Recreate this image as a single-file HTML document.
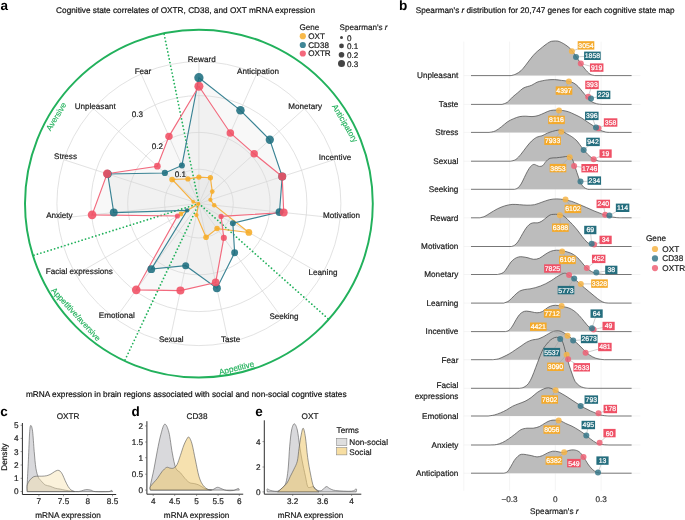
<!DOCTYPE html>
<html><head><meta charset="utf-8"><title>Figure</title>
<style>
html,body{margin:0;padding:0;background:#fff;}
body{width:685px;height:520px;overflow:hidden;}
svg{display:block;font-family:"Liberation Sans", sans-serif;will-change:transform;text-rendering:geometricPrecision;}
</style></head>
<body>
<svg width="685" height="520" viewBox="0 0 685 520">
<rect width="685" height="520" fill="#fff"/>
<text x="0.4" y="10.2" font-size="13.5" text-anchor="start" fill="#000" font-weight="bold">a</text>
<text x="56.1" y="12.8" font-size="8.25" text-anchor="start" fill="#111" stroke="#111" stroke-width="0.2">Cognitive state correlates of OXTR, CD38, and OXT mRNA expression</text>
<polygon points="198.9,77.7 240.43,110.33 269.8,139.76 282.21,176.53 279.46,212.07 232.85,223.2 234.64,252.79 216.88,288.21 185.7,265.71 151.29,269.13 187.21,210.35 113.77,212.55 107.69,173.97 164.86,172.95 181.9,165.41" fill="#808080" fill-opacity="0.055" stroke="none"/>
<polygon points="198.9,86.3 230.34,132.98 254.19,153.82 282.21,176.53 283.73,212.52 221.07,216.4 223.82,237.9 215.66,282.44 180.42,290.56 136.24,289.84 177.42,216 92.09,214.83 107.12,173.78 157.36,166.2 168.96,136.36" fill="#808080" fill-opacity="0.055" stroke="none"/>
<polygon points="198.9,177.1 210.41,177.75 212.28,191.56 210.41,199.86 214.22,205.21 248.87,232.45 217.06,228.6 206.05,237.25 196.47,215.04 198.61,204 180.89,214 198.4,203.65 193.19,201.75 172.15,179.51 187.92,178.93" fill="#808080" fill-opacity="0.055" stroke="none"/>
<circle cx="198.9" cy="203.6" r="34.4" fill="none" stroke="#d6d6d6" stroke-width="0.7"/>
<circle cx="198.9" cy="203.6" r="71.2" fill="none" stroke="#d6d6d6" stroke-width="0.7"/>
<circle cx="198.9" cy="203.6" r="108" fill="none" stroke="#d6d6d6" stroke-width="0.7"/>
<circle cx="198.9" cy="203.6" r="142" fill="none" stroke="#d6d6d6" stroke-width="0.7"/>
<line x1="198.9" y1="203.6" x2="198.9" y2="61.6" stroke="#d6d6d6" stroke-width="0.7"/>
<line x1="198.9" y1="203.6" x2="256.66" y2="73.88" stroke="#d6d6d6" stroke-width="0.7"/>
<line x1="198.9" y1="203.6" x2="304.43" y2="108.58" stroke="#d6d6d6" stroke-width="0.7"/>
<line x1="198.9" y1="203.6" x2="333.95" y2="159.72" stroke="#d6d6d6" stroke-width="0.7"/>
<line x1="198.9" y1="203.6" x2="340.12" y2="218.44" stroke="#d6d6d6" stroke-width="0.7"/>
<line x1="198.9" y1="203.6" x2="321.88" y2="274.6" stroke="#d6d6d6" stroke-width="0.7"/>
<line x1="198.9" y1="203.6" x2="282.37" y2="318.48" stroke="#d6d6d6" stroke-width="0.7"/>
<line x1="198.9" y1="203.6" x2="228.42" y2="342.5" stroke="#d6d6d6" stroke-width="0.7"/>
<line x1="198.9" y1="203.6" x2="169.38" y2="342.5" stroke="#d6d6d6" stroke-width="0.7"/>
<line x1="198.9" y1="203.6" x2="115.43" y2="318.48" stroke="#d6d6d6" stroke-width="0.7"/>
<line x1="198.9" y1="203.6" x2="75.92" y2="274.6" stroke="#d6d6d6" stroke-width="0.7"/>
<line x1="198.9" y1="203.6" x2="57.68" y2="218.44" stroke="#d6d6d6" stroke-width="0.7"/>
<line x1="198.9" y1="203.6" x2="63.85" y2="159.72" stroke="#d6d6d6" stroke-width="0.7"/>
<line x1="198.9" y1="203.6" x2="93.37" y2="108.58" stroke="#d6d6d6" stroke-width="0.7"/>
<line x1="198.9" y1="203.6" x2="141.14" y2="73.88" stroke="#d6d6d6" stroke-width="0.7"/>
<circle cx="198.9" cy="203.6" r="173.9" fill="none" stroke="#22b15c" stroke-width="1.95"/>
<line x1="198.9" y1="203.6" x2="164.11" y2="34.13" stroke="#22b15c" stroke-width="1.8" stroke-dasharray="0 3.6" stroke-linecap="round"/>
<line x1="198.9" y1="203.6" x2="328.07" y2="318.68" stroke="#22b15c" stroke-width="1.8" stroke-dasharray="0 3.6" stroke-linecap="round"/>
<line x1="198.9" y1="203.6" x2="124.97" y2="360.01" stroke="#22b15c" stroke-width="1.8" stroke-dasharray="0 3.6" stroke-linecap="round"/>
<line x1="198.9" y1="203.6" x2="33.82" y2="255.33" stroke="#22b15c" stroke-width="1.8" stroke-dasharray="0 3.6" stroke-linecap="round"/>
<polygon points="198.9,177.1 210.41,177.75 212.28,191.56 210.41,199.86 214.22,205.21 248.87,232.45 217.06,228.6 206.05,237.25 196.47,215.04 198.61,204 180.89,214 198.4,203.65 193.19,201.75 172.15,179.51 187.92,178.93" fill="none" stroke="#f6b244" stroke-width="1.15"/>
<polygon points="198.9,77.7 240.43,110.33 269.8,139.76 282.21,176.53 279.46,212.07 232.85,223.2 234.64,252.79 216.88,288.21 185.7,265.71 151.29,269.13 187.21,210.35 113.77,212.55 107.69,173.97 164.86,172.95 181.9,165.41" fill="none" stroke="#3a8394" stroke-width="1.15"/>
<polygon points="198.9,86.3 230.34,132.98 254.19,153.82 282.21,176.53 283.73,212.52 221.07,216.4 223.82,237.9 215.66,282.44 180.42,290.56 136.24,289.84 177.42,216 92.09,214.83 107.12,173.78 157.36,166.2 168.96,136.36" fill="none" stroke="#f26a7e" stroke-width="1.15"/>
<circle cx="198.9" cy="177.1" r="2.6" fill="#f6ac28" fill-opacity="0.88"/>
<circle cx="210.41" cy="177.75" r="2.65" fill="#f6ac28" fill-opacity="0.88"/>
<circle cx="212.28" cy="191.56" r="2.35" fill="#f6ac28" fill-opacity="0.88"/>
<circle cx="210.41" cy="199.86" r="2.15" fill="#f6ac28" fill-opacity="0.88"/>
<circle cx="214.22" cy="205.21" r="2.26" fill="#f6ac28" fill-opacity="0.88"/>
<circle cx="248.87" cy="232.45" r="3.38" fill="#f6ac28" fill-opacity="0.88"/>
<circle cx="217.06" cy="228.6" r="2.73" fill="#f6ac28" fill-opacity="0.88"/>
<circle cx="206.05" cy="237.25" r="2.82" fill="#f6ac28" fill-opacity="0.88"/>
<circle cx="196.47" cy="215.04" r="2.13" fill="#f6ac28" fill-opacity="0.88"/>
<circle cx="198.61" cy="204" r="1.7" fill="#f6ac28" fill-opacity="0.88"/>
<circle cx="180.89" cy="214" r="2.43" fill="#f6ac28" fill-opacity="0.88"/>
<circle cx="198.4" cy="203.65" r="1.7" fill="#f6ac28" fill-opacity="0.88"/>
<circle cx="193.19" cy="201.75" r="1.92" fill="#f6ac28" fill-opacity="0.88"/>
<circle cx="172.15" cy="179.51" r="2.86" fill="#f6ac28" fill-opacity="0.88"/>
<circle cx="187.92" cy="178.93" r="2.62" fill="#f6ac28" fill-opacity="0.88"/>
<circle cx="198.9" cy="77.7" r="4.66" fill="#1e6e80" fill-opacity="0.88"/>
<circle cx="240.43" cy="110.33" r="4.26" fill="#1e6e80" fill-opacity="0.88"/>
<circle cx="269.8" cy="139.76" r="4.14" fill="#1e6e80" fill-opacity="0.88"/>
<circle cx="282.21" cy="176.53" r="3.99" fill="#1e6e80" fill-opacity="0.88"/>
<circle cx="279.46" cy="212.07" r="3.87" fill="#1e6e80" fill-opacity="0.88"/>
<circle cx="232.85" cy="223.2" r="2.95" fill="#1e6e80" fill-opacity="0.88"/>
<circle cx="234.64" cy="252.79" r="3.45" fill="#1e6e80" fill-opacity="0.88"/>
<circle cx="216.88" cy="288.21" r="3.97" fill="#1e6e80" fill-opacity="0.88"/>
<circle cx="185.7" cy="265.71" r="3.51" fill="#1e6e80" fill-opacity="0.88"/>
<circle cx="151.29" cy="269.13" r="3.87" fill="#1e6e80" fill-opacity="0.88"/>
<circle cx="187.21" cy="210.35" r="2.2" fill="#1e6e80" fill-opacity="0.88"/>
<circle cx="113.77" cy="212.55" r="3.95" fill="#1e6e80" fill-opacity="0.88"/>
<circle cx="107.69" cy="173.97" r="4.15" fill="#1e6e80" fill-opacity="0.88"/>
<circle cx="164.86" cy="172.95" r="3.11" fill="#1e6e80" fill-opacity="0.88"/>
<circle cx="181.9" cy="165.41" r="3.01" fill="#1e6e80" fill-opacity="0.88"/>
<circle cx="198.9" cy="86.3" r="4.52" fill="#f05064" fill-opacity="0.88"/>
<circle cx="230.34" cy="132.98" r="3.79" fill="#f05064" fill-opacity="0.88"/>
<circle cx="254.19" cy="153.82" r="3.74" fill="#f05064" fill-opacity="0.88"/>
<circle cx="282.21" cy="176.53" r="3.99" fill="#f05064" fill-opacity="0.88"/>
<circle cx="283.73" cy="212.52" r="3.95" fill="#f05064" fill-opacity="0.88"/>
<circle cx="221.07" cy="216.4" r="2.58" fill="#f05064" fill-opacity="0.88"/>
<circle cx="223.82" cy="237.9" r="3.03" fill="#f05064" fill-opacity="0.88"/>
<circle cx="215.66" cy="282.44" r="3.86" fill="#f05064" fill-opacity="0.88"/>
<circle cx="180.42" cy="290.56" r="4.02" fill="#f05064" fill-opacity="0.88"/>
<circle cx="136.24" cy="289.84" r="4.33" fill="#f05064" fill-opacity="0.88"/>
<circle cx="177.42" cy="216" r="2.55" fill="#f05064" fill-opacity="0.88"/>
<circle cx="92.09" cy="214.83" r="4.35" fill="#f05064" fill-opacity="0.88"/>
<circle cx="107.12" cy="173.78" r="4.16" fill="#f05064" fill-opacity="0.88"/>
<circle cx="157.36" cy="166.2" r="3.34" fill="#f05064" fill-opacity="0.88"/>
<circle cx="168.96" cy="136.36" r="3.72" fill="#f05064" fill-opacity="0.88"/>
<text x="201.7" y="61.55" font-size="8.1" text-anchor="middle" fill="#1a1a1a" stroke="#1a1a1a" stroke-width="0.2">Reward</text>
<text x="258" y="74.25" font-size="8.1" text-anchor="middle" fill="#1a1a1a" stroke="#1a1a1a" stroke-width="0.2">Anticipation</text>
<text x="305.2" y="108.85" font-size="8.1" text-anchor="middle" fill="#1a1a1a" stroke="#1a1a1a" stroke-width="0.2">Monetary</text>
<text x="335" y="159.75" font-size="8.1" text-anchor="middle" fill="#1a1a1a" stroke="#1a1a1a" stroke-width="0.2">Incentive</text>
<text x="341.5" y="218.35" font-size="8.1" text-anchor="middle" fill="#1a1a1a" stroke="#1a1a1a" stroke-width="0.2">Motivation</text>
<text x="323" y="274.95" font-size="8.1" text-anchor="middle" fill="#1a1a1a" stroke="#1a1a1a" stroke-width="0.2">Leaning</text>
<text x="284" y="318.55" font-size="8.1" text-anchor="middle" fill="#1a1a1a" stroke="#1a1a1a" stroke-width="0.2">Seeking</text>
<text x="230.6" y="342.25" font-size="8.1" text-anchor="middle" fill="#1a1a1a" stroke="#1a1a1a" stroke-width="0.2">Taste</text>
<text x="171.25" y="342.25" font-size="8.1" text-anchor="middle" fill="#1a1a1a" stroke="#1a1a1a" stroke-width="0.2">Sexual</text>
<text x="116.8" y="318.05" font-size="8.1" text-anchor="middle" fill="#1a1a1a" stroke="#1a1a1a" stroke-width="0.2">Emotional</text>
<text x="79.3" y="274.05" font-size="8.1" text-anchor="middle" fill="#1a1a1a" stroke="#1a1a1a" stroke-width="0.2">Facial expressions</text>
<text x="59.4" y="217.75" font-size="8.1" text-anchor="middle" fill="#1a1a1a" stroke="#1a1a1a" stroke-width="0.2">Anxiety</text>
<text x="65.5" y="159.25" font-size="8.1" text-anchor="middle" fill="#1a1a1a" stroke="#1a1a1a" stroke-width="0.2">Stress</text>
<text x="95.2" y="108.75" font-size="8.1" text-anchor="middle" fill="#1a1a1a" stroke="#1a1a1a" stroke-width="0.2">Unpleasant</text>
<text x="143" y="73.75" font-size="8.1" text-anchor="middle" fill="#1a1a1a" stroke="#1a1a1a" stroke-width="0.2">Fear</text>
<text x="180.5" y="177.3" font-size="8.1" text-anchor="middle" fill="#1a1a1a" stroke="#1a1a1a" stroke-width="0.2">0.1</text>
<text x="157.4" y="148.8" font-size="8.1" text-anchor="middle" fill="#1a1a1a" stroke="#1a1a1a" stroke-width="0.2">0.2</text>
<text x="137.5" y="117" font-size="8.1" text-anchor="middle" fill="#1a1a1a" stroke="#1a1a1a" stroke-width="0.2">0.3</text>
<text x="0" y="2.8" font-size="8.2" text-anchor="middle" fill="#22b15c" stroke="#22b15c" stroke-width="0.15" transform="translate(56.2 116.6) rotate(-58.6)">Aversive</text>
<text x="0" y="2.8" font-size="8.2" text-anchor="middle" fill="#22b15c" stroke="#22b15c" stroke-width="0.15" transform="translate(345 123.2) rotate(59.5)">Anticipatory</text>
<text x="0" y="2.8" font-size="8.2" text-anchor="middle" fill="#22b15c" stroke="#22b15c" stroke-width="0.15" transform="translate(76 314.3) rotate(47.5)">Appetitive/aversive</text>
<text x="0" y="2.8" font-size="8.2" text-anchor="middle" fill="#22b15c" stroke="#22b15c" stroke-width="0.15" transform="translate(236.6 368) rotate(-13.5)">Appetitive</text>
<text x="299.5" y="29.9" font-size="8.1" text-anchor="start" fill="#1a1a1a" stroke="#1a1a1a" stroke-width="0.2">Gene</text>
<circle cx="302.8" cy="36.2" r="3.1" fill="#f8b94a"/>
<text x="308.2" y="39.1" font-size="8.1" text-anchor="start" fill="#1a1a1a" stroke="#1a1a1a" stroke-width="0.2">OXT</text>
<circle cx="302.8" cy="45" r="3.1" fill="#3f8696"/>
<text x="308.2" y="47.9" font-size="8.1" text-anchor="start" fill="#1a1a1a" stroke="#1a1a1a" stroke-width="0.2">CD38</text>
<circle cx="302.8" cy="53.5" r="3.1" fill="#f4687c"/>
<text x="308.2" y="56.4" font-size="8.1" text-anchor="start" fill="#1a1a1a" stroke="#1a1a1a" stroke-width="0.2">OXTR</text>
<text x="339.6" y="29.9" font-size="8.1" fill="#1a1a1a" stroke="#1a1a1a" stroke-width="0.2">Spearman's <tspan font-style="italic">r</tspan></text>
<circle cx="341.5" cy="37.4" r="1.5" fill="#444"/>
<text x="346.9" y="40.6" font-size="8.1" text-anchor="start" fill="#1a1a1a" stroke="#1a1a1a" stroke-width="0.2">0</text>
<circle cx="341.5" cy="45.9" r="2.4" fill="#444"/>
<text x="346.9" y="49.1" font-size="8.1" text-anchor="start" fill="#1a1a1a" stroke="#1a1a1a" stroke-width="0.2">0.1</text>
<circle cx="341.5" cy="54.8" r="2.8" fill="#444"/>
<text x="346.9" y="58" font-size="8.1" text-anchor="start" fill="#1a1a1a" stroke="#1a1a1a" stroke-width="0.2">0.2</text>
<circle cx="341.5" cy="63.5" r="3.5" fill="#444"/>
<text x="346.9" y="66.7" font-size="8.1" text-anchor="start" fill="#1a1a1a" stroke="#1a1a1a" stroke-width="0.2">0.3</text>
<text x="398.9" y="9.7" font-size="13.6" text-anchor="start" fill="#000" font-weight="bold">b</text>
<text x="415.8" y="12.8" font-size="8.2" fill="#111" stroke="#111" stroke-width="0.2">Spearman's <tspan font-style="italic">r</tspan> distribution for 20,747 genes for each cognitive state map</text>
<line x1="463.8" y1="41.6" x2="463.8" y2="490.7" stroke="#ececec" stroke-width="0.6"/>
<line x1="509.6" y1="41.6" x2="509.6" y2="490.7" stroke="#ececec" stroke-width="0.6"/>
<line x1="555.3" y1="41.6" x2="555.3" y2="490.7" stroke="#ececec" stroke-width="0.6"/>
<line x1="601.1" y1="41.6" x2="601.1" y2="490.7" stroke="#ececec" stroke-width="0.6"/>
<line x1="463.8" y1="75.6" x2="640.4" y2="75.6" stroke="#ececec" stroke-width="0.6"/>
<line x1="463.8" y1="104.4" x2="640.4" y2="104.4" stroke="#ececec" stroke-width="0.6"/>
<line x1="463.8" y1="132.4" x2="640.4" y2="132.4" stroke="#ececec" stroke-width="0.6"/>
<line x1="463.8" y1="161.2" x2="640.4" y2="161.2" stroke="#ececec" stroke-width="0.6"/>
<line x1="463.8" y1="189.3" x2="640.4" y2="189.3" stroke="#ececec" stroke-width="0.6"/>
<line x1="463.8" y1="217.8" x2="640.4" y2="217.8" stroke="#ececec" stroke-width="0.6"/>
<line x1="463.8" y1="246.5" x2="640.4" y2="246.5" stroke="#ececec" stroke-width="0.6"/>
<line x1="463.8" y1="274.5" x2="640.4" y2="274.5" stroke="#ececec" stroke-width="0.6"/>
<line x1="463.8" y1="303.1" x2="640.4" y2="303.1" stroke="#ececec" stroke-width="0.6"/>
<line x1="463.8" y1="331.6" x2="640.4" y2="331.6" stroke="#ececec" stroke-width="0.6"/>
<line x1="463.8" y1="359.7" x2="640.4" y2="359.7" stroke="#ececec" stroke-width="0.6"/>
<line x1="463.8" y1="388.3" x2="640.4" y2="388.3" stroke="#ececec" stroke-width="0.6"/>
<line x1="463.8" y1="416" x2="640.4" y2="416" stroke="#ececec" stroke-width="0.6"/>
<line x1="463.8" y1="445" x2="640.4" y2="445" stroke="#ececec" stroke-width="0.6"/>
<line x1="463.8" y1="473.2" x2="640.4" y2="473.2" stroke="#ececec" stroke-width="0.6"/>
<path d="M511.2,75.6 C512,75.33 514.38,74.8 516,74 C517.62,73.2 519.28,72.27 520.9,70.8 C522.52,69.33 524.1,67.2 525.7,65.2 C527.3,63.2 528.9,60.8 530.5,58.8 C532.1,56.8 533.7,54.82 535.3,53.2 C536.9,51.58 538.48,50.45 540.1,49.1 C541.72,47.75 543.38,46.3 545,45.1 C546.62,43.9 548.47,42.57 549.8,41.9 C551.13,41.23 551.67,41.23 553,41.1 C554.33,40.97 556.33,40.83 557.8,41.1 C559.27,41.37 560.47,42.03 561.8,42.7 C563.13,43.37 564.32,44.03 565.8,45.1 C567.28,46.17 569.08,47.35 570.7,49.1 C572.32,50.85 573.9,53.32 575.5,55.6 C577.1,57.88 578.7,60.53 580.3,62.8 C581.9,65.07 583.5,67.33 585.1,69.2 C586.7,71.07 588.3,72.93 589.9,74 C591.5,75.07 593.9,75.33 594.7,75.6 Z" fill="#bcbcbc" stroke="none"/>
<path d="M471,75.6 L511.2,75.6 C512,75.33 514.38,74.8 516,74 C517.62,73.2 519.28,72.27 520.9,70.8 C522.52,69.33 524.1,67.2 525.7,65.2 C527.3,63.2 528.9,60.8 530.5,58.8 C532.1,56.8 533.7,54.82 535.3,53.2 C536.9,51.58 538.48,50.45 540.1,49.1 C541.72,47.75 543.38,46.3 545,45.1 C546.62,43.9 548.47,42.57 549.8,41.9 C551.13,41.23 551.67,41.23 553,41.1 C554.33,40.97 556.33,40.83 557.8,41.1 C559.27,41.37 560.47,42.03 561.8,42.7 C563.13,43.37 564.32,44.03 565.8,45.1 C567.28,46.17 569.08,47.35 570.7,49.1 C572.32,50.85 573.9,53.32 575.5,55.6 C577.1,57.88 578.7,60.53 580.3,62.8 C581.9,65.07 583.5,67.33 585.1,69.2 C586.7,71.07 588.3,72.93 589.9,74 C591.5,75.07 593.9,75.33 594.7,75.6 L631.6,75.6" fill="none" stroke="#4d4d4d" stroke-width="0.75"/>
<path d="M502,104.4 C502.88,104.05 505.55,103.52 507.3,102.3 C509.05,101.08 510.75,98.7 512.5,97.1 C514.25,95.5 516.05,94.17 517.8,92.7 C519.55,91.23 521.4,89.32 523,88.3 C524.6,87.28 525.93,87.12 527.4,86.6 C528.87,86.08 530.2,85.93 531.8,85.2 C533.4,84.47 535.25,82.93 537,82.2 C538.75,81.47 540.53,81.18 542.3,80.8 C544.07,80.42 545.55,80.1 547.6,79.9 C549.65,79.7 552.27,79.52 554.6,79.6 C556.93,79.68 559.27,80.12 561.6,80.4 C563.93,80.68 566.57,80.85 568.6,81.3 C570.63,81.75 572.2,82.22 573.8,83.1 C575.4,83.98 576.73,85.15 578.2,86.6 C579.67,88.05 581.13,90.05 582.6,91.8 C584.07,93.55 585.53,95.48 587,97.1 C588.47,98.72 589.8,100.4 591.4,101.5 C593,102.6 594.85,103.22 596.6,103.7 C598.35,104.18 601.02,104.28 601.9,104.4 Z" fill="#bcbcbc" stroke="none"/>
<path d="M471,104.4 L502,104.4 C502.88,104.05 505.55,103.52 507.3,102.3 C509.05,101.08 510.75,98.7 512.5,97.1 C514.25,95.5 516.05,94.17 517.8,92.7 C519.55,91.23 521.4,89.32 523,88.3 C524.6,87.28 525.93,87.12 527.4,86.6 C528.87,86.08 530.2,85.93 531.8,85.2 C533.4,84.47 535.25,82.93 537,82.2 C538.75,81.47 540.53,81.18 542.3,80.8 C544.07,80.42 545.55,80.1 547.6,79.9 C549.65,79.7 552.27,79.52 554.6,79.6 C556.93,79.68 559.27,80.12 561.6,80.4 C563.93,80.68 566.57,80.85 568.6,81.3 C570.63,81.75 572.2,82.22 573.8,83.1 C575.4,83.98 576.73,85.15 578.2,86.6 C579.67,88.05 581.13,90.05 582.6,91.8 C584.07,93.55 585.53,95.48 587,97.1 C588.47,98.72 589.8,100.4 591.4,101.5 C593,102.6 594.85,103.22 596.6,103.7 C598.35,104.18 601.02,104.28 601.9,104.4 L631.6,104.4" fill="none" stroke="#4d4d4d" stroke-width="0.75"/>
<path d="M489.1,132.4 C490.12,132.17 493.17,131.92 495.2,131 C497.23,130.08 499.25,128.43 501.3,126.9 C503.35,125.37 505.45,123.17 507.5,121.8 C509.55,120.43 511.57,119.57 513.6,118.7 C515.63,117.83 517.65,117.02 519.7,116.6 C521.75,116.18 523.85,116.2 525.9,116.2 C527.95,116.2 529.97,116.7 532,116.6 C534.03,116.5 536.05,116.2 538.1,115.6 C540.15,115 542.25,113.85 544.3,113 C546.35,112.15 548.37,110.98 550.4,110.5 C552.43,110.02 554.45,110.1 556.5,110.1 C558.55,110.1 560.65,110.2 562.7,110.5 C564.75,110.8 566.77,111.22 568.8,111.9 C570.83,112.58 572.85,113.63 574.9,114.6 C576.95,115.57 579.05,116.5 581.1,117.7 C583.15,118.9 585.17,120.45 587.2,121.8 C589.23,123.15 591.25,124.45 593.3,125.8 C595.35,127.15 597.45,128.87 599.5,129.9 C601.55,130.93 603.9,131.58 605.6,132 C607.3,132.42 609.02,132.33 609.7,132.4 Z" fill="#bcbcbc" stroke="none"/>
<path d="M471,132.4 L489.1,132.4 C490.12,132.17 493.17,131.92 495.2,131 C497.23,130.08 499.25,128.43 501.3,126.9 C503.35,125.37 505.45,123.17 507.5,121.8 C509.55,120.43 511.57,119.57 513.6,118.7 C515.63,117.83 517.65,117.02 519.7,116.6 C521.75,116.18 523.85,116.2 525.9,116.2 C527.95,116.2 529.97,116.7 532,116.6 C534.03,116.5 536.05,116.2 538.1,115.6 C540.15,115 542.25,113.85 544.3,113 C546.35,112.15 548.37,110.98 550.4,110.5 C552.43,110.02 554.45,110.1 556.5,110.1 C558.55,110.1 560.65,110.2 562.7,110.5 C564.75,110.8 566.77,111.22 568.8,111.9 C570.83,112.58 572.85,113.63 574.9,114.6 C576.95,115.57 579.05,116.5 581.1,117.7 C583.15,118.9 585.17,120.45 587.2,121.8 C589.23,123.15 591.25,124.45 593.3,125.8 C595.35,127.15 597.45,128.87 599.5,129.9 C601.55,130.93 603.9,131.58 605.6,132 C607.3,132.42 609.02,132.33 609.7,132.4 L631.6,132.4" fill="none" stroke="#4d4d4d" stroke-width="0.75"/>
<path d="M510.5,161.2 C511.38,160.92 514.05,160.67 515.8,159.5 C517.55,158.33 519.25,156.25 521,154.2 C522.75,152.15 524.55,149.38 526.3,147.2 C528.05,145.02 529.75,142.77 531.5,141.1 C533.25,139.43 535.05,138.08 536.8,137.2 C538.55,136.32 540.25,136.47 542,135.8 C543.75,135.13 545.53,133.93 547.3,133.2 C549.07,132.47 550.85,131.9 552.6,131.4 C554.35,130.9 556.35,130.33 557.8,130.2 C559.25,130.07 559.83,130.02 561.3,130.6 C562.77,131.18 564.85,132.68 566.6,133.7 C568.35,134.72 570.05,135.47 571.8,136.7 C573.55,137.93 575.35,139.2 577.1,141.1 C578.85,143 580.55,145.92 582.3,148.1 C584.05,150.28 585.83,152.45 587.6,154.2 C589.37,155.95 591.15,157.48 592.9,158.6 C594.65,159.72 596.65,160.47 598.1,160.9 C599.55,161.33 601.02,161.15 601.6,161.2 Z" fill="#bcbcbc" stroke="none"/>
<path d="M471,161.2 L510.5,161.2 C511.38,160.92 514.05,160.67 515.8,159.5 C517.55,158.33 519.25,156.25 521,154.2 C522.75,152.15 524.55,149.38 526.3,147.2 C528.05,145.02 529.75,142.77 531.5,141.1 C533.25,139.43 535.05,138.08 536.8,137.2 C538.55,136.32 540.25,136.47 542,135.8 C543.75,135.13 545.53,133.93 547.3,133.2 C549.07,132.47 550.85,131.9 552.6,131.4 C554.35,130.9 556.35,130.33 557.8,130.2 C559.25,130.07 559.83,130.02 561.3,130.6 C562.77,131.18 564.85,132.68 566.6,133.7 C568.35,134.72 570.05,135.47 571.8,136.7 C573.55,137.93 575.35,139.2 577.1,141.1 C578.85,143 580.55,145.92 582.3,148.1 C584.05,150.28 585.83,152.45 587.6,154.2 C589.37,155.95 591.15,157.48 592.9,158.6 C594.65,159.72 596.65,160.47 598.1,160.9 C599.55,161.33 601.02,161.15 601.6,161.2 L631.6,161.2" fill="none" stroke="#4d4d4d" stroke-width="0.75"/>
<path d="M514.6,189.3 C515.13,189.08 516.72,188.88 517.8,188 C518.88,187.12 520.02,185.73 521.1,184 C522.18,182.27 523.23,179.73 524.3,177.6 C525.37,175.47 526.43,173.07 527.5,171.2 C528.57,169.33 529.63,167.53 530.7,166.4 C531.77,165.27 532.83,164.53 533.9,164.4 C534.97,164.27 536.17,165.27 537.1,165.6 C538.03,165.93 538.57,166.4 539.5,166.4 C540.43,166.4 541.62,166.42 542.7,165.6 C543.78,164.78 544.78,162.72 546,161.5 C547.22,160.28 548.27,158.92 550,158.3 C551.73,157.68 554.27,158.02 556.4,157.8 C558.53,157.58 560.93,157.23 562.8,157 C564.67,156.77 566.27,156.32 567.6,156.4 C568.93,156.48 569.85,156.65 570.8,157.5 C571.75,158.35 572.48,159.62 573.3,161.5 C574.12,163.38 574.9,166.38 575.7,168.8 C576.5,171.22 577.3,173.73 578.1,176 C578.9,178.27 579.57,180.53 580.5,182.4 C581.43,184.27 582.5,186.07 583.7,187.2 C584.9,188.33 586.63,188.85 587.7,189.2 C588.77,189.55 589.7,189.28 590.1,189.3 Z" fill="#bcbcbc" stroke="none"/>
<path d="M471,189.3 L514.6,189.3 C515.13,189.08 516.72,188.88 517.8,188 C518.88,187.12 520.02,185.73 521.1,184 C522.18,182.27 523.23,179.73 524.3,177.6 C525.37,175.47 526.43,173.07 527.5,171.2 C528.57,169.33 529.63,167.53 530.7,166.4 C531.77,165.27 532.83,164.53 533.9,164.4 C534.97,164.27 536.17,165.27 537.1,165.6 C538.03,165.93 538.57,166.4 539.5,166.4 C540.43,166.4 541.62,166.42 542.7,165.6 C543.78,164.78 544.78,162.72 546,161.5 C547.22,160.28 548.27,158.92 550,158.3 C551.73,157.68 554.27,158.02 556.4,157.8 C558.53,157.58 560.93,157.23 562.8,157 C564.67,156.77 566.27,156.32 567.6,156.4 C568.93,156.48 569.85,156.65 570.8,157.5 C571.75,158.35 572.48,159.62 573.3,161.5 C574.12,163.38 574.9,166.38 575.7,168.8 C576.5,171.22 577.3,173.73 578.1,176 C578.9,178.27 579.57,180.53 580.5,182.4 C581.43,184.27 582.5,186.07 583.7,187.2 C584.9,188.33 586.63,188.85 587.7,189.2 C588.77,189.55 589.7,189.28 590.1,189.3 L631.6,189.3" fill="none" stroke="#4d4d4d" stroke-width="0.75"/>
<path d="M479.9,217.8 C480.73,217.55 483.25,217.05 484.9,216.3 C486.55,215.55 487.73,214.53 489.8,213.3 C491.87,212.07 494.82,210.13 497.3,208.9 C499.78,207.67 502.23,206.65 504.7,205.9 C507.17,205.15 509.62,204.6 512.1,204.4 C514.58,204.2 517.12,204.57 519.6,204.7 C522.08,204.83 524.52,205.2 527,205.2 C529.48,205.2 532.02,205.2 534.5,204.7 C536.98,204.2 539.42,203.03 541.9,202.2 C544.38,201.37 546.92,200.25 549.4,199.7 C551.88,199.15 554.32,198.9 556.8,198.9 C559.28,198.9 561.82,199.28 564.3,199.7 C566.78,200.12 569.23,200.62 571.7,201.4 C574.17,202.18 576.62,203.37 579.1,204.4 C581.58,205.43 584.12,206.52 586.6,207.6 C589.08,208.68 591.52,209.87 594,210.9 C596.48,211.93 599.02,212.9 601.5,213.8 C603.98,214.7 606.42,215.67 608.9,216.3 C611.38,216.93 614.33,217.35 616.4,217.6 C618.47,217.85 620.48,217.77 621.3,217.8 Z" fill="#bcbcbc" stroke="none"/>
<path d="M471,217.8 L479.9,217.8 C480.73,217.55 483.25,217.05 484.9,216.3 C486.55,215.55 487.73,214.53 489.8,213.3 C491.87,212.07 494.82,210.13 497.3,208.9 C499.78,207.67 502.23,206.65 504.7,205.9 C507.17,205.15 509.62,204.6 512.1,204.4 C514.58,204.2 517.12,204.57 519.6,204.7 C522.08,204.83 524.52,205.2 527,205.2 C529.48,205.2 532.02,205.2 534.5,204.7 C536.98,204.2 539.42,203.03 541.9,202.2 C544.38,201.37 546.92,200.25 549.4,199.7 C551.88,199.15 554.32,198.9 556.8,198.9 C559.28,198.9 561.82,199.28 564.3,199.7 C566.78,200.12 569.23,200.62 571.7,201.4 C574.17,202.18 576.62,203.37 579.1,204.4 C581.58,205.43 584.12,206.52 586.6,207.6 C589.08,208.68 591.52,209.87 594,210.9 C596.48,211.93 599.02,212.9 601.5,213.8 C603.98,214.7 606.42,215.67 608.9,216.3 C611.38,216.93 614.33,217.35 616.4,217.6 C618.47,217.85 620.48,217.77 621.3,217.8 L631.6,217.8" fill="none" stroke="#4d4d4d" stroke-width="0.75"/>
<path d="M511.4,246.5 C511.93,246.28 513.53,245.95 514.6,245.2 C515.67,244.45 516.72,243.47 517.8,242 C518.88,240.53 520.02,238.27 521.1,236.4 C522.18,234.53 523.23,232.48 524.3,230.8 C525.37,229.12 526.43,227.5 527.5,226.3 C528.57,225.1 529.63,224.18 530.7,223.6 C531.77,223.02 532.7,222.93 533.9,222.8 C535.1,222.67 536.57,223.08 537.9,222.8 C539.23,222.52 540.55,221.92 541.9,221.1 C543.25,220.28 544.65,218.92 546,217.9 C547.35,216.88 548.8,215.58 550,215 C551.2,214.42 551.87,214.5 553.2,214.4 C554.53,214.3 556.4,214.22 558,214.4 C559.6,214.58 561.2,214.65 562.8,215.5 C564.4,216.35 566,218.02 567.6,219.5 C569.2,220.98 570.78,222.65 572.4,224.4 C574.02,226.15 575.68,228 577.3,230 C578.92,232 580.5,234.4 582.1,236.4 C583.7,238.4 585.3,240.53 586.9,242 C588.5,243.47 590.1,244.47 591.7,245.2 C593.3,245.93 595.17,246.18 596.5,246.4 C597.83,246.62 599.17,246.48 599.7,246.5 Z" fill="#bcbcbc" stroke="none"/>
<path d="M471,246.5 L511.4,246.5 C511.93,246.28 513.53,245.95 514.6,245.2 C515.67,244.45 516.72,243.47 517.8,242 C518.88,240.53 520.02,238.27 521.1,236.4 C522.18,234.53 523.23,232.48 524.3,230.8 C525.37,229.12 526.43,227.5 527.5,226.3 C528.57,225.1 529.63,224.18 530.7,223.6 C531.77,223.02 532.7,222.93 533.9,222.8 C535.1,222.67 536.57,223.08 537.9,222.8 C539.23,222.52 540.55,221.92 541.9,221.1 C543.25,220.28 544.65,218.92 546,217.9 C547.35,216.88 548.8,215.58 550,215 C551.2,214.42 551.87,214.5 553.2,214.4 C554.53,214.3 556.4,214.22 558,214.4 C559.6,214.58 561.2,214.65 562.8,215.5 C564.4,216.35 566,218.02 567.6,219.5 C569.2,220.98 570.78,222.65 572.4,224.4 C574.02,226.15 575.68,228 577.3,230 C578.92,232 580.5,234.4 582.1,236.4 C583.7,238.4 585.3,240.53 586.9,242 C588.5,243.47 590.1,244.47 591.7,245.2 C593.3,245.93 595.17,246.18 596.5,246.4 C597.83,246.62 599.17,246.48 599.7,246.5 L631.6,246.5" fill="none" stroke="#4d4d4d" stroke-width="0.75"/>
<path d="M497.6,274.5 C498.55,274.18 501.72,273.72 503.3,272.6 C504.88,271.48 505.83,269.55 507.1,267.8 C508.37,266.05 509.63,263.62 510.9,262.1 C512.17,260.58 513.43,259.55 514.7,258.7 C515.97,257.85 517.23,257.32 518.5,257 C519.77,256.68 520.72,256.67 522.3,256.8 C523.88,256.93 526.12,257.38 528,257.8 C529.88,258.22 531.72,259.22 533.6,259.3 C535.48,259.38 537.4,259.1 539.3,258.3 C541.2,257.5 543.1,255.67 545,254.5 C546.9,253.33 548.8,252.02 550.7,251.3 C552.6,250.58 554.5,250.3 556.4,250.2 C558.3,250.1 560.2,250.38 562.1,250.7 C564,251.02 565.9,251.47 567.8,252.1 C569.7,252.73 571.6,253.3 573.5,254.5 C575.4,255.7 577.47,257.55 579.2,259.3 C580.93,261.05 582.32,263.27 583.9,265 C585.48,266.73 586.95,268.38 588.7,269.7 C590.45,271.02 592.5,272.17 594.4,272.9 C596.3,273.63 598.22,273.83 600.1,274.1 C601.98,274.37 604.77,274.43 605.7,274.5 Z" fill="#bcbcbc" stroke="none"/>
<path d="M471,274.5 L497.6,274.5 C498.55,274.18 501.72,273.72 503.3,272.6 C504.88,271.48 505.83,269.55 507.1,267.8 C508.37,266.05 509.63,263.62 510.9,262.1 C512.17,260.58 513.43,259.55 514.7,258.7 C515.97,257.85 517.23,257.32 518.5,257 C519.77,256.68 520.72,256.67 522.3,256.8 C523.88,256.93 526.12,257.38 528,257.8 C529.88,258.22 531.72,259.22 533.6,259.3 C535.48,259.38 537.4,259.1 539.3,258.3 C541.2,257.5 543.1,255.67 545,254.5 C546.9,253.33 548.8,252.02 550.7,251.3 C552.6,250.58 554.5,250.3 556.4,250.2 C558.3,250.1 560.2,250.38 562.1,250.7 C564,251.02 565.9,251.47 567.8,252.1 C569.7,252.73 571.6,253.3 573.5,254.5 C575.4,255.7 577.47,257.55 579.2,259.3 C580.93,261.05 582.32,263.27 583.9,265 C585.48,266.73 586.95,268.38 588.7,269.7 C590.45,271.02 592.5,272.17 594.4,272.9 C596.3,273.63 598.22,273.83 600.1,274.1 C601.98,274.37 604.77,274.43 605.7,274.5 L631.6,274.5" fill="none" stroke="#4d4d4d" stroke-width="0.75"/>
<path d="M503.8,303.1 C504.67,302.72 507.25,302.05 509,300.8 C510.75,299.55 512.55,297.2 514.3,295.6 C516.05,294 517.75,292.22 519.5,291.2 C521.25,290.18 523.05,289.88 524.8,289.5 C526.55,289.12 528.25,289.2 530,288.9 C531.75,288.6 533.55,288.18 535.3,287.7 C537.05,287.22 538.75,286.67 540.5,286 C542.25,285.33 544.03,284.58 545.8,283.7 C547.57,282.82 549.35,281.78 551.1,280.7 C552.85,279.62 554.7,278.22 556.3,277.2 C557.9,276.18 559.23,275.27 560.7,274.6 C562.17,273.93 563.63,273.07 565.1,273.2 C566.57,273.33 568.05,274.53 569.5,275.4 C570.95,276.27 572.2,277.13 573.8,278.4 C575.4,279.67 577.35,281.45 579.1,283 C580.85,284.55 582.55,286.18 584.3,287.7 C586.05,289.22 587.83,290.63 589.6,292.1 C591.37,293.57 593.15,295.1 594.9,296.5 C596.65,297.9 598.5,299.48 600.1,300.5 C601.7,301.52 603.03,302.17 604.5,302.6 C605.97,303.03 608.17,303.02 608.9,303.1 Z" fill="#bcbcbc" stroke="none"/>
<path d="M471,303.1 L503.8,303.1 C504.67,302.72 507.25,302.05 509,300.8 C510.75,299.55 512.55,297.2 514.3,295.6 C516.05,294 517.75,292.22 519.5,291.2 C521.25,290.18 523.05,289.88 524.8,289.5 C526.55,289.12 528.25,289.2 530,288.9 C531.75,288.6 533.55,288.18 535.3,287.7 C537.05,287.22 538.75,286.67 540.5,286 C542.25,285.33 544.03,284.58 545.8,283.7 C547.57,282.82 549.35,281.78 551.1,280.7 C552.85,279.62 554.7,278.22 556.3,277.2 C557.9,276.18 559.23,275.27 560.7,274.6 C562.17,273.93 563.63,273.07 565.1,273.2 C566.57,273.33 568.05,274.53 569.5,275.4 C570.95,276.27 572.2,277.13 573.8,278.4 C575.4,279.67 577.35,281.45 579.1,283 C580.85,284.55 582.55,286.18 584.3,287.7 C586.05,289.22 587.83,290.63 589.6,292.1 C591.37,293.57 593.15,295.1 594.9,296.5 C596.65,297.9 598.5,299.48 600.1,300.5 C601.7,301.52 603.03,302.17 604.5,302.6 C605.97,303.03 608.17,303.02 608.9,303.1 L631.6,303.1" fill="none" stroke="#4d4d4d" stroke-width="0.75"/>
<path d="M505.5,331.6 C506.08,331.38 507.83,331.23 509,330.3 C510.17,329.37 511.33,327.75 512.5,326 C513.67,324.25 514.83,321.7 516,319.8 C517.17,317.9 518.33,315.92 519.5,314.6 C520.67,313.28 521.83,312.48 523,311.9 C524.17,311.32 525.03,311.1 526.5,311.1 C527.97,311.1 530.05,311.62 531.8,311.9 C533.55,312.18 535.25,312.85 537,312.8 C538.75,312.75 540.53,312.47 542.3,311.6 C544.07,310.73 545.85,308.62 547.6,307.6 C549.35,306.58 551.05,305.85 552.8,305.5 C554.55,305.15 556.35,305.3 558.1,305.5 C559.85,305.7 561.55,306.3 563.3,306.7 C565.05,307.1 566.85,307.23 568.6,307.9 C570.35,308.57 572.05,309.45 573.8,310.7 C575.55,311.95 577.35,313.58 579.1,315.4 C580.85,317.22 582.55,319.55 584.3,321.6 C586.05,323.65 587.83,326.15 589.6,327.7 C591.37,329.25 593.15,330.25 594.9,330.9 C596.65,331.55 599.23,331.48 600.1,331.6 Z" fill="#bcbcbc" stroke="none"/>
<path d="M471,331.6 L505.5,331.6 C506.08,331.38 507.83,331.23 509,330.3 C510.17,329.37 511.33,327.75 512.5,326 C513.67,324.25 514.83,321.7 516,319.8 C517.17,317.9 518.33,315.92 519.5,314.6 C520.67,313.28 521.83,312.48 523,311.9 C524.17,311.32 525.03,311.1 526.5,311.1 C527.97,311.1 530.05,311.62 531.8,311.9 C533.55,312.18 535.25,312.85 537,312.8 C538.75,312.75 540.53,312.47 542.3,311.6 C544.07,310.73 545.85,308.62 547.6,307.6 C549.35,306.58 551.05,305.85 552.8,305.5 C554.55,305.15 556.35,305.3 558.1,305.5 C559.85,305.7 561.55,306.3 563.3,306.7 C565.05,307.1 566.85,307.23 568.6,307.9 C570.35,308.57 572.05,309.45 573.8,310.7 C575.55,311.95 577.35,313.58 579.1,315.4 C580.85,317.22 582.55,319.55 584.3,321.6 C586.05,323.65 587.83,326.15 589.6,327.7 C591.37,329.25 593.15,330.25 594.9,330.9 C596.65,331.55 599.23,331.48 600.1,331.6 L631.6,331.6" fill="none" stroke="#4d4d4d" stroke-width="0.75"/>
<path d="M492.6,359.7 C493.55,359.57 496.4,359.43 498.3,358.9 C500.2,358.37 502.1,357.38 504,356.5 C505.9,355.62 507.8,354.72 509.7,353.6 C511.6,352.48 513.5,351.07 515.4,349.8 C517.3,348.53 519.22,347.27 521.1,346 C522.98,344.73 524.82,343.22 526.7,342.2 C528.58,341.18 530.5,340.43 532.4,339.9 C534.3,339.37 536.2,339.57 538.1,339 C540,338.43 542.05,337.38 543.8,336.5 C545.55,335.62 547.02,334.55 548.6,333.7 C550.18,332.85 551.72,331.88 553.3,331.4 C554.88,330.92 556.67,330.73 558.1,330.8 C559.53,330.87 560.48,331.17 561.9,331.8 C563.32,332.43 564.87,333.4 566.6,334.6 C568.33,335.8 570.4,337.42 572.3,339 C574.2,340.58 576.1,342.3 578,344.1 C579.9,345.9 581.8,348 583.7,349.8 C585.6,351.6 587.5,353.53 589.4,354.9 C591.3,356.27 593.22,357.27 595.1,358 C596.98,358.73 599.13,359.02 600.7,359.3 C602.27,359.58 603.87,359.63 604.5,359.7 Z" fill="#bcbcbc" stroke="none"/>
<path d="M471,359.7 L492.6,359.7 C493.55,359.57 496.4,359.43 498.3,358.9 C500.2,358.37 502.1,357.38 504,356.5 C505.9,355.62 507.8,354.72 509.7,353.6 C511.6,352.48 513.5,351.07 515.4,349.8 C517.3,348.53 519.22,347.27 521.1,346 C522.98,344.73 524.82,343.22 526.7,342.2 C528.58,341.18 530.5,340.43 532.4,339.9 C534.3,339.37 536.2,339.57 538.1,339 C540,338.43 542.05,337.38 543.8,336.5 C545.55,335.62 547.02,334.55 548.6,333.7 C550.18,332.85 551.72,331.88 553.3,331.4 C554.88,330.92 556.67,330.73 558.1,330.8 C559.53,330.87 560.48,331.17 561.9,331.8 C563.32,332.43 564.87,333.4 566.6,334.6 C568.33,335.8 570.4,337.42 572.3,339 C574.2,340.58 576.1,342.3 578,344.1 C579.9,345.9 581.8,348 583.7,349.8 C585.6,351.6 587.5,353.53 589.4,354.9 C591.3,356.27 593.22,357.27 595.1,358 C596.98,358.73 599.13,359.02 600.7,359.3 C602.27,359.58 603.87,359.63 604.5,359.7 L631.6,359.7" fill="none" stroke="#4d4d4d" stroke-width="0.75"/>
<path d="M519.6,388.3 C520.33,388.12 522.53,387.98 524,387.2 C525.47,386.42 527.07,385.3 528.4,383.6 C529.73,381.9 530.78,379.68 532,377 C533.22,374.32 534.48,370.67 535.7,367.5 C536.92,364.33 538.08,361.03 539.3,358 C540.52,354.97 541.78,351.6 543,349.3 C544.22,347 545.38,345.72 546.6,344.2 C547.82,342.68 548.97,341.3 550.3,340.2 C551.63,339.1 553.27,338.03 554.6,337.6 C555.93,337.17 557.08,337.12 558.3,337.6 C559.52,338.08 560.93,339.03 561.9,340.5 C562.87,341.97 563.37,343.97 564.1,346.4 C564.83,348.83 565.45,351.95 566.3,355.1 C567.15,358.25 568.22,362.13 569.2,365.3 C570.18,368.47 571.22,371.42 572.2,374.1 C573.18,376.78 573.88,379.45 575.1,381.4 C576.32,383.35 578.05,384.75 579.5,385.8 C580.95,386.85 582.35,387.28 583.8,387.7 C585.25,388.12 587.47,388.2 588.2,388.3 Z" fill="#bcbcbc" stroke="none"/>
<path d="M471,388.3 L519.6,388.3 C520.33,388.12 522.53,387.98 524,387.2 C525.47,386.42 527.07,385.3 528.4,383.6 C529.73,381.9 530.78,379.68 532,377 C533.22,374.32 534.48,370.67 535.7,367.5 C536.92,364.33 538.08,361.03 539.3,358 C540.52,354.97 541.78,351.6 543,349.3 C544.22,347 545.38,345.72 546.6,344.2 C547.82,342.68 548.97,341.3 550.3,340.2 C551.63,339.1 553.27,338.03 554.6,337.6 C555.93,337.17 557.08,337.12 558.3,337.6 C559.52,338.08 560.93,339.03 561.9,340.5 C562.87,341.97 563.37,343.97 564.1,346.4 C564.83,348.83 565.45,351.95 566.3,355.1 C567.15,358.25 568.22,362.13 569.2,365.3 C570.18,368.47 571.22,371.42 572.2,374.1 C573.18,376.78 573.88,379.45 575.1,381.4 C576.32,383.35 578.05,384.75 579.5,385.8 C580.95,386.85 582.35,387.28 583.8,387.7 C585.25,388.12 587.47,388.2 588.2,388.3 L631.6,388.3" fill="none" stroke="#4d4d4d" stroke-width="0.75"/>
<path d="M488.2,416 C489.22,415.83 492.27,415.52 494.3,415 C496.33,414.48 498.35,413.75 500.4,412.9 C502.45,412.05 504.55,411.02 506.6,409.9 C508.65,408.78 510.67,407.23 512.7,406.2 C514.73,405.17 516.75,404.52 518.8,403.7 C520.85,402.88 522.95,402.32 525,401.3 C527.05,400.28 529.07,399.07 531.1,397.6 C533.13,396.13 535.15,393.93 537.2,392.5 C539.25,391.07 541.52,389.78 543.4,389 C545.28,388.22 546.8,387.73 548.5,387.8 C550.2,387.87 551.73,388.62 553.6,389.4 C555.47,390.18 557.67,391.4 559.7,392.5 C561.73,393.6 563.75,394.73 565.8,396 C567.85,397.27 569.95,398.75 572,400.1 C574.05,401.45 576.07,402.82 578.1,404.1 C580.13,405.38 582.15,406.67 584.2,407.8 C586.25,408.93 588.35,409.95 590.4,410.9 C592.45,411.85 594.47,412.75 596.5,413.5 C598.53,414.25 600.55,414.98 602.6,415.4 C604.65,415.82 607.77,415.9 608.8,416 Z" fill="#bcbcbc" stroke="none"/>
<path d="M471,416 L488.2,416 C489.22,415.83 492.27,415.52 494.3,415 C496.33,414.48 498.35,413.75 500.4,412.9 C502.45,412.05 504.55,411.02 506.6,409.9 C508.65,408.78 510.67,407.23 512.7,406.2 C514.73,405.17 516.75,404.52 518.8,403.7 C520.85,402.88 522.95,402.32 525,401.3 C527.05,400.28 529.07,399.07 531.1,397.6 C533.13,396.13 535.15,393.93 537.2,392.5 C539.25,391.07 541.52,389.78 543.4,389 C545.28,388.22 546.8,387.73 548.5,387.8 C550.2,387.87 551.73,388.62 553.6,389.4 C555.47,390.18 557.67,391.4 559.7,392.5 C561.73,393.6 563.75,394.73 565.8,396 C567.85,397.27 569.95,398.75 572,400.1 C574.05,401.45 576.07,402.82 578.1,404.1 C580.13,405.38 582.15,406.67 584.2,407.8 C586.25,408.93 588.35,409.95 590.4,410.9 C592.45,411.85 594.47,412.75 596.5,413.5 C598.53,414.25 600.55,414.98 602.6,415.4 C604.65,415.82 607.77,415.9 608.8,416 L631.6,416" fill="none" stroke="#4d4d4d" stroke-width="0.75"/>
<path d="M490.2,445 C491.22,444.93 494.25,445.02 496.3,444.6 C498.35,444.18 500.45,443.45 502.5,442.5 C504.55,441.55 506.57,440.25 508.6,438.9 C510.63,437.55 512.65,435.93 514.7,434.4 C516.75,432.87 518.85,430.73 520.9,429.7 C522.95,428.67 524.97,428.45 527,428.2 C529.03,427.95 531.05,428.47 533.1,428.2 C535.15,427.93 537.25,427.48 539.3,426.6 C541.35,425.72 543.53,423.92 545.4,422.9 C547.27,421.88 548.8,420.97 550.5,420.5 C552.2,420.03 553.9,420.03 555.6,420.1 C557.3,420.17 559,420.33 560.7,420.9 C562.4,421.47 563.92,422.62 565.8,423.5 C567.68,424.38 569.95,425.17 572,426.2 C574.05,427.23 576.07,428.43 578.1,429.7 C580.13,430.97 582.15,432.27 584.2,433.8 C586.25,435.33 588.35,437.37 590.4,438.9 C592.45,440.43 594.47,442.05 596.5,443 C598.53,443.95 600.55,444.27 602.6,444.6 C604.65,444.93 607.77,444.93 608.8,445 Z" fill="#bcbcbc" stroke="none"/>
<path d="M471,445 L490.2,445 C491.22,444.93 494.25,445.02 496.3,444.6 C498.35,444.18 500.45,443.45 502.5,442.5 C504.55,441.55 506.57,440.25 508.6,438.9 C510.63,437.55 512.65,435.93 514.7,434.4 C516.75,432.87 518.85,430.73 520.9,429.7 C522.95,428.67 524.97,428.45 527,428.2 C529.03,427.95 531.05,428.47 533.1,428.2 C535.15,427.93 537.25,427.48 539.3,426.6 C541.35,425.72 543.53,423.92 545.4,422.9 C547.27,421.88 548.8,420.97 550.5,420.5 C552.2,420.03 553.9,420.03 555.6,420.1 C557.3,420.17 559,420.33 560.7,420.9 C562.4,421.47 563.92,422.62 565.8,423.5 C567.68,424.38 569.95,425.17 572,426.2 C574.05,427.23 576.07,428.43 578.1,429.7 C580.13,430.97 582.15,432.27 584.2,433.8 C586.25,435.33 588.35,437.37 590.4,438.9 C592.45,440.43 594.47,442.05 596.5,443 C598.53,443.95 600.55,444.27 602.6,444.6 C604.65,444.93 607.77,444.93 608.8,445 L631.6,445" fill="none" stroke="#4d4d4d" stroke-width="0.75"/>
<path d="M503.8,473.2 C504.38,472.97 506.13,472.9 507.3,471.8 C508.47,470.7 509.63,468.5 510.8,466.6 C511.97,464.7 513.13,462.1 514.3,460.4 C515.47,458.7 516.63,457.42 517.8,456.4 C518.97,455.38 519.85,454.58 521.3,454.3 C522.75,454.02 524.75,454.47 526.5,454.7 C528.25,454.93 530.05,455.33 531.8,455.7 C533.55,456.07 535.25,456.9 537,456.9 C538.75,456.9 540.53,456.37 542.3,455.7 C544.07,455.03 545.85,453.65 547.6,452.9 C549.35,452.15 551.05,451.4 552.8,451.2 C554.55,451 556.35,451.47 558.1,451.7 C559.85,451.93 561.55,452.8 563.3,452.6 C565.05,452.4 566.85,450.95 568.6,450.5 C570.35,450.05 572.05,449.7 573.8,449.9 C575.55,450.1 577.48,450.53 579.1,451.7 C580.72,452.87 582.03,454.85 583.5,456.9 C584.97,458.95 586.45,461.95 587.9,464 C589.35,466.05 590.75,467.83 592.2,469.2 C593.65,470.57 594.98,471.53 596.6,472.2 C598.22,472.87 601.02,473.03 601.9,473.2 Z" fill="#bcbcbc" stroke="none"/>
<path d="M471,473.2 L503.8,473.2 C504.38,472.97 506.13,472.9 507.3,471.8 C508.47,470.7 509.63,468.5 510.8,466.6 C511.97,464.7 513.13,462.1 514.3,460.4 C515.47,458.7 516.63,457.42 517.8,456.4 C518.97,455.38 519.85,454.58 521.3,454.3 C522.75,454.02 524.75,454.47 526.5,454.7 C528.25,454.93 530.05,455.33 531.8,455.7 C533.55,456.07 535.25,456.9 537,456.9 C538.75,456.9 540.53,456.37 542.3,455.7 C544.07,455.03 545.85,453.65 547.6,452.9 C549.35,452.15 551.05,451.4 552.8,451.2 C554.55,451 556.35,451.47 558.1,451.7 C559.85,451.93 561.55,452.8 563.3,452.6 C565.05,452.4 566.85,450.95 568.6,450.5 C570.35,450.05 572.05,449.7 573.8,449.9 C575.55,450.1 577.48,450.53 579.1,451.7 C580.72,452.87 582.03,454.85 583.5,456.9 C584.97,458.95 586.45,461.95 587.9,464 C589.35,466.05 590.75,467.83 592.2,469.2 C593.65,470.57 594.98,471.53 596.6,472.2 C598.22,472.87 601.02,473.03 601.9,473.2 L631.6,473.2" fill="none" stroke="#4d4d4d" stroke-width="0.75"/>
<line x1="571.9" y1="51.3" x2="586" y2="45.7" stroke="#a0a0a0" stroke-width="0.5"/>
<line x1="576" y1="56.9" x2="592.4" y2="56.1" stroke="#a0a0a0" stroke-width="0.5"/>
<line x1="580.8" y1="63.6" x2="596.7" y2="67.9" stroke="#a0a0a0" stroke-width="0.5"/>
<line x1="568.9" y1="81.4" x2="564" y2="90.9" stroke="#a0a0a0" stroke-width="0.5"/>
<line x1="588.2" y1="96.8" x2="592" y2="85.2" stroke="#a0a0a0" stroke-width="0.5"/>
<line x1="591" y1="98.5" x2="603.6" y2="95.2" stroke="#a0a0a0" stroke-width="0.5"/>
<line x1="559" y1="110.6" x2="556.5" y2="120.2" stroke="#a0a0a0" stroke-width="0.5"/>
<line x1="598.5" y1="128.2" x2="610.6" y2="122.8" stroke="#a0a0a0" stroke-width="0.5"/>
<line x1="596" y1="127.6" x2="591.8" y2="116.2" stroke="#a0a0a0" stroke-width="0.5"/>
<line x1="561.3" y1="131.7" x2="552.6" y2="141.1" stroke="#a0a0a0" stroke-width="0.5"/>
<line x1="583.7" y1="149.9" x2="593" y2="142.2" stroke="#a0a0a0" stroke-width="0.5"/>
<line x1="593.7" y1="159.2" x2="605.6" y2="153.9" stroke="#a0a0a0" stroke-width="0.5"/>
<line x1="569.7" y1="157.2" x2="558" y2="168.4" stroke="#a0a0a0" stroke-width="0.5"/>
<line x1="574.1" y1="166.1" x2="589.7" y2="168.5" stroke="#a0a0a0" stroke-width="0.5"/>
<line x1="580.5" y1="181.6" x2="594.3" y2="180.9" stroke="#a0a0a0" stroke-width="0.5"/>
<line x1="565.5" y1="199.4" x2="572.9" y2="209.2" stroke="#a0a0a0" stroke-width="0.5"/>
<line x1="605.2" y1="214.8" x2="603.3" y2="204.2" stroke="#a0a0a0" stroke-width="0.5"/>
<line x1="609.4" y1="215.5" x2="622.6" y2="208.1" stroke="#a0a0a0" stroke-width="0.5"/>
<line x1="559.9" y1="215.2" x2="560.4" y2="228" stroke="#a0a0a0" stroke-width="0.5"/>
<line x1="594.1" y1="244.6" x2="605.6" y2="240.2" stroke="#a0a0a0" stroke-width="0.5"/>
<line x1="591.7" y1="243.7" x2="590.3" y2="230.3" stroke="#a0a0a0" stroke-width="0.5"/>
<line x1="562.1" y1="251.4" x2="567.4" y2="260.2" stroke="#a0a0a0" stroke-width="0.5"/>
<line x1="586.8" y1="267.9" x2="598.7" y2="259.2" stroke="#a0a0a0" stroke-width="0.5"/>
<line x1="596.3" y1="272.6" x2="611.3" y2="270.2" stroke="#a0a0a0" stroke-width="0.5"/>
<line x1="569.1" y1="275.1" x2="552.4" y2="268.8" stroke="#a0a0a0" stroke-width="0.5"/>
<line x1="574.2" y1="278.6" x2="566" y2="290.4" stroke="#a0a0a0" stroke-width="0.5"/>
<line x1="580.8" y1="283.9" x2="599.5" y2="283.9" stroke="#a0a0a0" stroke-width="0.5"/>
<line x1="561.6" y1="306" x2="552.2" y2="313.7" stroke="#a0a0a0" stroke-width="0.5"/>
<line x1="593.6" y1="329.5" x2="608.6" y2="326.3" stroke="#a0a0a0" stroke-width="0.5"/>
<line x1="591.9" y1="328.3" x2="596.6" y2="313.9" stroke="#a0a0a0" stroke-width="0.5"/>
<line x1="567.5" y1="335.7" x2="538.3" y2="327" stroke="#a0a0a0" stroke-width="0.5"/>
<line x1="573.2" y1="340.6" x2="589.2" y2="339.3" stroke="#a0a0a0" stroke-width="0.5"/>
<line x1="585.6" y1="352.7" x2="604.9" y2="347.3" stroke="#a0a0a0" stroke-width="0.5"/>
<line x1="560.2" y1="339.1" x2="551.8" y2="352.4" stroke="#a0a0a0" stroke-width="0.5"/>
<line x1="566.6" y1="354.8" x2="555.5" y2="367.1" stroke="#a0a0a0" stroke-width="0.5"/>
<line x1="568.1" y1="359.2" x2="581.7" y2="367.6" stroke="#a0a0a0" stroke-width="0.5"/>
<line x1="555.6" y1="390.2" x2="549.7" y2="399.8" stroke="#a0a0a0" stroke-width="0.5"/>
<line x1="580.6" y1="406.1" x2="591.3" y2="399.9" stroke="#a0a0a0" stroke-width="0.5"/>
<line x1="598.5" y1="413.2" x2="610.3" y2="409.3" stroke="#a0a0a0" stroke-width="0.5"/>
<line x1="558.7" y1="420.6" x2="551.8" y2="429.9" stroke="#a0a0a0" stroke-width="0.5"/>
<line x1="586.3" y1="435.5" x2="588.3" y2="425.3" stroke="#a0a0a0" stroke-width="0.5"/>
<line x1="599.6" y1="442.7" x2="609.5" y2="433.4" stroke="#a0a0a0" stroke-width="0.5"/>
<line x1="564.2" y1="452.3" x2="553.9" y2="460.9" stroke="#a0a0a0" stroke-width="0.5"/>
<line x1="583.5" y1="457" x2="573.9" y2="463.4" stroke="#a0a0a0" stroke-width="0.5"/>
<line x1="598" y1="472.4" x2="602.5" y2="460.9" stroke="#a0a0a0" stroke-width="0.5"/>
<circle cx="571.9" cy="51.3" r="3" fill="#f6b445" fill-opacity="0.85"/>
<circle cx="576" cy="56.9" r="3" fill="#37788a" fill-opacity="0.85"/>
<circle cx="580.8" cy="63.6" r="3" fill="#ee6175" fill-opacity="0.85"/>
<circle cx="568.9" cy="81.4" r="3" fill="#f6b445" fill-opacity="0.85"/>
<circle cx="588.2" cy="96.8" r="3" fill="#ee6175" fill-opacity="0.85"/>
<circle cx="591" cy="98.5" r="3" fill="#37788a" fill-opacity="0.85"/>
<circle cx="559" cy="110.6" r="3" fill="#f6b445" fill-opacity="0.85"/>
<circle cx="598.5" cy="128.2" r="3" fill="#ee6175" fill-opacity="0.85"/>
<circle cx="596" cy="127.6" r="3" fill="#37788a" fill-opacity="0.85"/>
<circle cx="561.3" cy="131.7" r="3" fill="#f6b445" fill-opacity="0.85"/>
<circle cx="583.7" cy="149.9" r="3" fill="#37788a" fill-opacity="0.85"/>
<circle cx="593.7" cy="159.2" r="3" fill="#ee6175" fill-opacity="0.85"/>
<circle cx="569.7" cy="157.2" r="3" fill="#f6b445" fill-opacity="0.85"/>
<circle cx="574.1" cy="166.1" r="3" fill="#ee6175" fill-opacity="0.85"/>
<circle cx="580.5" cy="181.6" r="3" fill="#37788a" fill-opacity="0.85"/>
<circle cx="565.5" cy="199.4" r="3" fill="#f6b445" fill-opacity="0.85"/>
<circle cx="605.2" cy="214.8" r="3" fill="#ee6175" fill-opacity="0.85"/>
<circle cx="609.4" cy="215.5" r="3" fill="#37788a" fill-opacity="0.85"/>
<circle cx="559.9" cy="215.2" r="3" fill="#f6b445" fill-opacity="0.85"/>
<circle cx="594.1" cy="244.6" r="3" fill="#ee6175" fill-opacity="0.85"/>
<circle cx="591.7" cy="243.7" r="3" fill="#37788a" fill-opacity="0.85"/>
<circle cx="562.1" cy="251.4" r="3" fill="#f6b445" fill-opacity="0.85"/>
<circle cx="586.8" cy="267.9" r="3" fill="#ee6175" fill-opacity="0.85"/>
<circle cx="596.3" cy="272.6" r="3" fill="#37788a" fill-opacity="0.85"/>
<circle cx="569.1" cy="275.1" r="3" fill="#ee6175" fill-opacity="0.85"/>
<circle cx="574.2" cy="278.6" r="3" fill="#37788a" fill-opacity="0.85"/>
<circle cx="580.8" cy="283.9" r="3" fill="#f6b445" fill-opacity="0.85"/>
<circle cx="561.6" cy="306" r="3" fill="#f6b445" fill-opacity="0.85"/>
<circle cx="593.6" cy="329.5" r="3" fill="#ee6175" fill-opacity="0.85"/>
<circle cx="591.9" cy="328.3" r="3" fill="#37788a" fill-opacity="0.85"/>
<circle cx="567.5" cy="335.7" r="3" fill="#f6b445" fill-opacity="0.85"/>
<circle cx="573.2" cy="340.6" r="3" fill="#37788a" fill-opacity="0.85"/>
<circle cx="585.6" cy="352.7" r="3" fill="#ee6175" fill-opacity="0.85"/>
<circle cx="560.2" cy="339.1" r="3" fill="#37788a" fill-opacity="0.85"/>
<circle cx="566.6" cy="354.8" r="3" fill="#f6b445" fill-opacity="0.85"/>
<circle cx="568.1" cy="359.2" r="3" fill="#ee6175" fill-opacity="0.85"/>
<circle cx="555.6" cy="390.2" r="3" fill="#f6b445" fill-opacity="0.85"/>
<circle cx="580.6" cy="406.1" r="3" fill="#37788a" fill-opacity="0.85"/>
<circle cx="598.5" cy="413.2" r="3" fill="#ee6175" fill-opacity="0.85"/>
<circle cx="558.7" cy="420.6" r="3" fill="#f6b445" fill-opacity="0.85"/>
<circle cx="586.3" cy="435.5" r="3" fill="#37788a" fill-opacity="0.85"/>
<circle cx="599.6" cy="442.7" r="3" fill="#ee6175" fill-opacity="0.85"/>
<circle cx="564.2" cy="452.3" r="3" fill="#f6b445" fill-opacity="0.85"/>
<circle cx="583.5" cy="457" r="3" fill="#ee6175" fill-opacity="0.85"/>
<circle cx="598" cy="472.4" r="3" fill="#37788a" fill-opacity="0.85"/>
<rect x="577.7" y="41.2" width="16.6" height="8.4" fill="#f4aa2c"/>
<text x="586" y="47.85" font-size="6.9" text-anchor="middle" fill="#fff" stroke="#fff" stroke-width="0.2">3054</text>
<rect x="584.1" y="51.6" width="16.6" height="8.4" fill="#256e7e"/>
<text x="592.4" y="58.25" font-size="6.9" text-anchor="middle" fill="#fff" stroke="#fff" stroke-width="0.2">1858</text>
<rect x="589.95" y="63.4" width="13.5" height="8.4" fill="#ef5166"/>
<text x="596.7" y="70.05" font-size="6.9" text-anchor="middle" fill="#fff" stroke="#fff" stroke-width="0.2">919</text>
<rect x="555.7" y="86.4" width="16.6" height="8.4" fill="#f4aa2c"/>
<text x="564" y="93.05" font-size="6.9" text-anchor="middle" fill="#fff" stroke="#fff" stroke-width="0.2">4397</text>
<rect x="585.25" y="80.7" width="13.5" height="8.4" fill="#ef5166"/>
<text x="592" y="87.35" font-size="6.9" text-anchor="middle" fill="#fff" stroke="#fff" stroke-width="0.2">393</text>
<rect x="596.85" y="90.7" width="13.5" height="8.4" fill="#256e7e"/>
<text x="603.6" y="97.35" font-size="6.9" text-anchor="middle" fill="#fff" stroke="#fff" stroke-width="0.2">229</text>
<rect x="548.2" y="115.7" width="16.6" height="8.4" fill="#f4aa2c"/>
<text x="556.5" y="122.35" font-size="6.9" text-anchor="middle" fill="#fff" stroke="#fff" stroke-width="0.2">8116</text>
<rect x="603.85" y="118.3" width="13.5" height="8.4" fill="#ef5166"/>
<text x="610.6" y="124.95" font-size="6.9" text-anchor="middle" fill="#fff" stroke="#fff" stroke-width="0.2">358</text>
<rect x="585.05" y="111.7" width="13.5" height="8.4" fill="#256e7e"/>
<text x="591.8" y="118.35" font-size="6.9" text-anchor="middle" fill="#fff" stroke="#fff" stroke-width="0.2">396</text>
<rect x="544.3" y="136.6" width="16.6" height="8.4" fill="#f4aa2c"/>
<text x="552.6" y="143.25" font-size="6.9" text-anchor="middle" fill="#fff" stroke="#fff" stroke-width="0.2">7933</text>
<rect x="586.25" y="137.7" width="13.5" height="8.4" fill="#256e7e"/>
<text x="593" y="144.35" font-size="6.9" text-anchor="middle" fill="#fff" stroke="#fff" stroke-width="0.2">942</text>
<rect x="599.5" y="149.4" width="12.2" height="8.4" fill="#ef5166"/>
<text x="605.6" y="156.05" font-size="6.9" text-anchor="middle" fill="#fff" stroke="#fff" stroke-width="0.2">19</text>
<rect x="549.7" y="163.9" width="16.6" height="8.4" fill="#f4aa2c"/>
<text x="558" y="170.55" font-size="6.9" text-anchor="middle" fill="#fff" stroke="#fff" stroke-width="0.2">3853</text>
<rect x="581.4" y="164" width="16.6" height="8.4" fill="#ef5166"/>
<text x="589.7" y="170.65" font-size="6.9" text-anchor="middle" fill="#fff" stroke="#fff" stroke-width="0.2">1746</text>
<rect x="587.55" y="176.4" width="13.5" height="8.4" fill="#256e7e"/>
<text x="594.3" y="183.05" font-size="6.9" text-anchor="middle" fill="#fff" stroke="#fff" stroke-width="0.2">234</text>
<rect x="564.6" y="204.7" width="16.6" height="8.4" fill="#f4aa2c"/>
<text x="572.9" y="211.35" font-size="6.9" text-anchor="middle" fill="#fff" stroke="#fff" stroke-width="0.2">6102</text>
<rect x="596.55" y="199.7" width="13.5" height="8.4" fill="#ef5166"/>
<text x="603.3" y="206.35" font-size="6.9" text-anchor="middle" fill="#fff" stroke="#fff" stroke-width="0.2">240</text>
<rect x="615.85" y="203.6" width="13.5" height="8.4" fill="#256e7e"/>
<text x="622.6" y="210.25" font-size="6.9" text-anchor="middle" fill="#fff" stroke="#fff" stroke-width="0.2">114</text>
<rect x="552.1" y="223.5" width="16.6" height="8.4" fill="#f4aa2c"/>
<text x="560.4" y="230.15" font-size="6.9" text-anchor="middle" fill="#fff" stroke="#fff" stroke-width="0.2">6388</text>
<rect x="599.5" y="235.7" width="12.2" height="8.4" fill="#ef5166"/>
<text x="605.6" y="242.35" font-size="6.9" text-anchor="middle" fill="#fff" stroke="#fff" stroke-width="0.2">34</text>
<rect x="584.2" y="225.8" width="12.2" height="8.4" fill="#256e7e"/>
<text x="590.3" y="232.45" font-size="6.9" text-anchor="middle" fill="#fff" stroke="#fff" stroke-width="0.2">69</text>
<rect x="559.1" y="255.7" width="16.6" height="8.4" fill="#f4aa2c"/>
<text x="567.4" y="262.35" font-size="6.9" text-anchor="middle" fill="#fff" stroke="#fff" stroke-width="0.2">6106</text>
<rect x="591.95" y="254.7" width="13.5" height="8.4" fill="#ef5166"/>
<text x="598.7" y="261.35" font-size="6.9" text-anchor="middle" fill="#fff" stroke="#fff" stroke-width="0.2">452</text>
<rect x="605.2" y="265.7" width="12.2" height="8.4" fill="#256e7e"/>
<text x="611.3" y="272.35" font-size="6.9" text-anchor="middle" fill="#fff" stroke="#fff" stroke-width="0.2">38</text>
<rect x="544.1" y="264.3" width="16.6" height="8.4" fill="#ef5166"/>
<text x="552.4" y="270.95" font-size="6.9" text-anchor="middle" fill="#fff" stroke="#fff" stroke-width="0.2">7825</text>
<rect x="557.7" y="285.9" width="16.6" height="8.4" fill="#256e7e"/>
<text x="566" y="292.55" font-size="6.9" text-anchor="middle" fill="#fff" stroke="#fff" stroke-width="0.2">5773</text>
<rect x="591.2" y="279.4" width="16.6" height="8.4" fill="#f4aa2c"/>
<text x="599.5" y="286.05" font-size="6.9" text-anchor="middle" fill="#fff" stroke="#fff" stroke-width="0.2">3328</text>
<rect x="543.9" y="309.2" width="16.6" height="8.4" fill="#f4aa2c"/>
<text x="552.2" y="315.85" font-size="6.9" text-anchor="middle" fill="#fff" stroke="#fff" stroke-width="0.2">7712</text>
<rect x="602.5" y="321.8" width="12.2" height="8.4" fill="#ef5166"/>
<text x="608.6" y="328.45" font-size="6.9" text-anchor="middle" fill="#fff" stroke="#fff" stroke-width="0.2">49</text>
<rect x="590.5" y="309.4" width="12.2" height="8.4" fill="#256e7e"/>
<text x="596.6" y="316.05" font-size="6.9" text-anchor="middle" fill="#fff" stroke="#fff" stroke-width="0.2">64</text>
<rect x="530" y="322.5" width="16.6" height="8.4" fill="#f4aa2c"/>
<text x="538.3" y="329.15" font-size="6.9" text-anchor="middle" fill="#fff" stroke="#fff" stroke-width="0.2">4421</text>
<rect x="580.9" y="334.8" width="16.6" height="8.4" fill="#256e7e"/>
<text x="589.2" y="341.45" font-size="6.9" text-anchor="middle" fill="#fff" stroke="#fff" stroke-width="0.2">2673</text>
<rect x="598.15" y="342.8" width="13.5" height="8.4" fill="#ef5166"/>
<text x="604.9" y="349.45" font-size="6.9" text-anchor="middle" fill="#fff" stroke="#fff" stroke-width="0.2">481</text>
<rect x="543.5" y="347.9" width="16.6" height="8.4" fill="#256e7e"/>
<text x="551.8" y="354.55" font-size="6.9" text-anchor="middle" fill="#fff" stroke="#fff" stroke-width="0.2">5537</text>
<rect x="547.2" y="362.6" width="16.6" height="8.4" fill="#f4aa2c"/>
<text x="555.5" y="369.25" font-size="6.9" text-anchor="middle" fill="#fff" stroke="#fff" stroke-width="0.2">3090</text>
<rect x="573.4" y="363.1" width="16.6" height="8.4" fill="#ef5166"/>
<text x="581.7" y="369.75" font-size="6.9" text-anchor="middle" fill="#fff" stroke="#fff" stroke-width="0.2">2633</text>
<rect x="541.4" y="395.3" width="16.6" height="8.4" fill="#f4aa2c"/>
<text x="549.7" y="401.95" font-size="6.9" text-anchor="middle" fill="#fff" stroke="#fff" stroke-width="0.2">7802</text>
<rect x="584.55" y="395.4" width="13.5" height="8.4" fill="#256e7e"/>
<text x="591.3" y="402.05" font-size="6.9" text-anchor="middle" fill="#fff" stroke="#fff" stroke-width="0.2">793</text>
<rect x="603.55" y="404.8" width="13.5" height="8.4" fill="#ef5166"/>
<text x="610.3" y="411.45" font-size="6.9" text-anchor="middle" fill="#fff" stroke="#fff" stroke-width="0.2">178</text>
<rect x="543.5" y="425.4" width="16.6" height="8.4" fill="#f4aa2c"/>
<text x="551.8" y="432.05" font-size="6.9" text-anchor="middle" fill="#fff" stroke="#fff" stroke-width="0.2">8056</text>
<rect x="581.55" y="420.8" width="13.5" height="8.4" fill="#256e7e"/>
<text x="588.3" y="427.45" font-size="6.9" text-anchor="middle" fill="#fff" stroke="#fff" stroke-width="0.2">495</text>
<rect x="603.4" y="428.9" width="12.2" height="8.4" fill="#ef5166"/>
<text x="609.5" y="435.55" font-size="6.9" text-anchor="middle" fill="#fff" stroke="#fff" stroke-width="0.2">60</text>
<rect x="545.6" y="456.4" width="16.6" height="8.4" fill="#f4aa2c"/>
<text x="553.9" y="463.05" font-size="6.9" text-anchor="middle" fill="#fff" stroke="#fff" stroke-width="0.2">6382</text>
<rect x="567.15" y="458.9" width="13.5" height="8.4" fill="#ef5166"/>
<text x="573.9" y="465.55" font-size="6.9" text-anchor="middle" fill="#fff" stroke="#fff" stroke-width="0.2">549</text>
<rect x="596.4" y="456.4" width="12.2" height="8.4" fill="#256e7e"/>
<text x="602.5" y="463.05" font-size="6.9" text-anchor="middle" fill="#fff" stroke="#fff" stroke-width="0.2">13</text>
<text x="646" y="241" font-size="8.2" text-anchor="start" fill="#1a1a1a" stroke="#1a1a1a" stroke-width="0.2">Gene</text>
<circle cx="655" cy="249" r="3.1" fill="#f6b445" fill-opacity="0.85"/>
<text x="662.3" y="251.9" font-size="8.2" text-anchor="start" fill="#1a1a1a" stroke="#1a1a1a" stroke-width="0.2">OXT</text>
<circle cx="655" cy="258.4" r="3.1" fill="#37788a" fill-opacity="0.85"/>
<text x="662.3" y="261.3" font-size="8.2" text-anchor="start" fill="#1a1a1a" stroke="#1a1a1a" stroke-width="0.2">CD38</text>
<circle cx="655" cy="268.1" r="3.1" fill="#ee6175" fill-opacity="0.85"/>
<text x="662.3" y="271" font-size="8.2" text-anchor="start" fill="#1a1a1a" stroke="#1a1a1a" stroke-width="0.2">OXTR</text>
<text x="458.4" y="78.4" font-size="8.2" text-anchor="end" fill="#1a1a1a" stroke="#1a1a1a" stroke-width="0.2">Unpleasant</text>
<text x="458.4" y="107.2" font-size="8.2" text-anchor="end" fill="#1a1a1a" stroke="#1a1a1a" stroke-width="0.2">Taste</text>
<text x="458.4" y="135.2" font-size="8.2" text-anchor="end" fill="#1a1a1a" stroke="#1a1a1a" stroke-width="0.2">Stress</text>
<text x="458.4" y="164" font-size="8.2" text-anchor="end" fill="#1a1a1a" stroke="#1a1a1a" stroke-width="0.2">Sexual</text>
<text x="458.4" y="192.1" font-size="8.2" text-anchor="end" fill="#1a1a1a" stroke="#1a1a1a" stroke-width="0.2">Seeking</text>
<text x="458.4" y="220.6" font-size="8.2" text-anchor="end" fill="#1a1a1a" stroke="#1a1a1a" stroke-width="0.2">Reward</text>
<text x="458.4" y="249.3" font-size="8.2" text-anchor="end" fill="#1a1a1a" stroke="#1a1a1a" stroke-width="0.2">Motivation</text>
<text x="458.4" y="277.3" font-size="8.2" text-anchor="end" fill="#1a1a1a" stroke="#1a1a1a" stroke-width="0.2">Monetary</text>
<text x="458.4" y="305.9" font-size="8.2" text-anchor="end" fill="#1a1a1a" stroke="#1a1a1a" stroke-width="0.2">Learning</text>
<text x="458.4" y="334.4" font-size="8.2" text-anchor="end" fill="#1a1a1a" stroke="#1a1a1a" stroke-width="0.2">Incentive</text>
<text x="458.4" y="362.5" font-size="8.2" text-anchor="end" fill="#1a1a1a" stroke="#1a1a1a" stroke-width="0.2">Fear</text>
<text x="458.4" y="388.2" font-size="8.2" text-anchor="end" fill="#1a1a1a" stroke="#1a1a1a" stroke-width="0.2">Facial</text>
<text x="458.4" y="398.6" font-size="8.2" text-anchor="end" fill="#1a1a1a" stroke="#1a1a1a" stroke-width="0.2">expressions</text>
<text x="458.4" y="418.8" font-size="8.2" text-anchor="end" fill="#1a1a1a" stroke="#1a1a1a" stroke-width="0.2">Emotional</text>
<text x="458.4" y="447.8" font-size="8.2" text-anchor="end" fill="#1a1a1a" stroke="#1a1a1a" stroke-width="0.2">Anxiety</text>
<text x="458.4" y="476" font-size="8.2" text-anchor="end" fill="#1a1a1a" stroke="#1a1a1a" stroke-width="0.2">Anticipation</text>
<text x="509.6" y="501.6" font-size="8.2" text-anchor="middle" fill="#333" stroke="#333" stroke-width="0.2">−0.3</text>
<text x="555.3" y="501.6" font-size="8.2" text-anchor="middle" fill="#333" stroke="#333" stroke-width="0.2">0</text>
<text x="601.1" y="501.6" font-size="8.2" text-anchor="middle" fill="#333" stroke="#333" stroke-width="0.2">0.3</text>
<text x="554.3" y="514" font-size="8.2" text-anchor="middle" fill="#1a1a1a" stroke="#1a1a1a" stroke-width="0.2">Spearman's <tspan font-style="italic">r</tspan></text>
<text x="25.9" y="396.75" font-size="8.28" text-anchor="start" fill="#111" stroke="#111" stroke-width="0.2">mRNA expression in brain regions associated with social and non-social cogntive states</text>
<text x="0.3" y="416" font-size="13.5" text-anchor="start" fill="#000" font-weight="bold">c</text>
<text x="68.1" y="419" font-size="8.2" text-anchor="middle" fill="#1a1a1a" stroke="#1a1a1a" stroke-width="0.2">OXTR</text>
<path d="M27.2,491.6 C27.2,490.42 27,489.8 27.2,484.5 C27.4,479.2 27.98,468.65 28.4,459.8 C28.82,450.95 29.28,437.12 29.7,431.4 C30.12,425.68 30.42,425.5 30.9,425.5 C31.38,425.5 32.05,427.08 32.6,431.4 C33.15,435.72 33.65,445.27 34.2,451.4 C34.75,457.53 35.2,463.87 35.9,468.2 C36.6,472.53 37.42,475.18 38.4,477.4 C39.38,479.62 40.68,480.25 41.8,481.5 C42.92,482.75 43.72,484.12 45.1,484.9 C46.48,485.68 48.43,485.65 50.1,486.2 C51.77,486.75 53.42,487.72 55.1,488.2 C56.78,488.68 58.52,488.77 60.2,489.1 C61.88,489.43 63.25,489.85 65.2,490.2 C67.15,490.55 69.68,490.97 71.9,491.2 C74.12,491.43 76.55,491.77 78.5,491.6 C80.45,491.43 82.2,490.53 83.6,490.2 C85,489.87 85.65,489.6 86.9,489.6 C88.15,489.6 89.7,489.87 91.1,490.2 C92.5,490.53 92.38,491.37 95.3,491.6 C98.22,491.83 105.95,491.8 108.6,491.6 C111.25,491.4 110.55,490.5 111.2,490.4 C111.85,490.3 112.28,490.8 112.5,491 C112.72,491.2 112.5,491.5 112.5,491.6 Z" fill="rgba(170,170,178,0.45)" stroke="#555" stroke-width="0.6"/>
<path d="M27.2,491.6 C27.2,490.48 26.73,486.85 27.2,484.9 C27.67,482.95 28.97,481.23 30,479.9 C31.03,478.57 32.28,477.52 33.4,476.9 C34.52,476.28 35.3,476.32 36.7,476.2 C38.1,476.08 40.12,476.28 41.8,476.2 C43.48,476.12 45.27,476.07 46.8,475.7 C48.33,475.33 49.75,474.65 51,474 C52.25,473.35 53.2,472.42 54.3,471.8 C55.4,471.18 56.62,470.4 57.6,470.3 C58.58,470.2 59.35,470.43 60.2,471.2 C61.05,471.97 61.87,473.32 62.7,474.9 C63.53,476.48 64.28,478.75 65.2,480.7 C66.12,482.65 67.23,485.07 68.2,486.6 C69.17,488.13 69.97,489.07 71,489.9 C72.03,490.73 73.83,491.32 74.4,491.6 Z" fill="rgba(245,225,170,0.42)" stroke="#555" stroke-width="0.6"/>
<path d="M22.4,423 V494.5 H116.2" fill="none" stroke="#222" stroke-width="0.95"/>
<line x1="20.6" y1="425.3" x2="22.4" y2="425.3" stroke="#555" stroke-width="0.6"/>
<text x="18.6" y="428.2" font-size="8.2" text-anchor="end" fill="#222" stroke="#222" stroke-width="0.2">5</text>
<line x1="20.6" y1="438.4" x2="22.4" y2="438.4" stroke="#555" stroke-width="0.6"/>
<text x="18.6" y="441.3" font-size="8.2" text-anchor="end" fill="#222" stroke="#222" stroke-width="0.2">4</text>
<line x1="20.6" y1="451.6" x2="22.4" y2="451.6" stroke="#555" stroke-width="0.6"/>
<text x="18.6" y="454.5" font-size="8.2" text-anchor="end" fill="#222" stroke="#222" stroke-width="0.2">3</text>
<line x1="20.6" y1="465" x2="22.4" y2="465" stroke="#555" stroke-width="0.6"/>
<text x="18.6" y="467.9" font-size="8.2" text-anchor="end" fill="#222" stroke="#222" stroke-width="0.2">2</text>
<line x1="20.6" y1="478.3" x2="22.4" y2="478.3" stroke="#555" stroke-width="0.6"/>
<text x="18.6" y="481.2" font-size="8.2" text-anchor="end" fill="#222" stroke="#222" stroke-width="0.2">1</text>
<line x1="20.6" y1="491.5" x2="22.4" y2="491.5" stroke="#555" stroke-width="0.6"/>
<text x="18.6" y="494.4" font-size="8.2" text-anchor="end" fill="#222" stroke="#222" stroke-width="0.2">0</text>
<line x1="38.9" y1="494.5" x2="38.9" y2="496.3" stroke="#555" stroke-width="0.6"/>
<text x="38.9" y="504.1" font-size="8.2" text-anchor="middle" fill="#222" stroke="#222" stroke-width="0.2">7</text>
<line x1="63.5" y1="494.5" x2="63.5" y2="496.3" stroke="#555" stroke-width="0.6"/>
<text x="63.5" y="504.1" font-size="8.2" text-anchor="middle" fill="#222" stroke="#222" stroke-width="0.2">7.5</text>
<line x1="87.7" y1="494.5" x2="87.7" y2="496.3" stroke="#555" stroke-width="0.6"/>
<text x="87.7" y="504.1" font-size="8.2" text-anchor="middle" fill="#222" stroke="#222" stroke-width="0.2">8</text>
<line x1="112.5" y1="494.5" x2="112.5" y2="496.3" stroke="#555" stroke-width="0.6"/>
<text x="112.5" y="504.1" font-size="8.2" text-anchor="middle" fill="#222" stroke="#222" stroke-width="0.2">8.5</text>
<text x="68" y="518.4" font-size="8.2" text-anchor="middle" fill="#1a1a1a" stroke="#1a1a1a" stroke-width="0.2">mRNA expression</text>
<text x="0" y="0" font-size="8.2" text-anchor="middle" fill="#1a1a1a" stroke="#1a1a1a" stroke-width="0.2" transform="translate(6.8 457.0) rotate(-90)">Density</text>
<text x="131.4" y="415.7" font-size="13.5" text-anchor="start" fill="#000" font-weight="bold">d</text>
<text x="197" y="419" font-size="8.2" text-anchor="middle" fill="#1a1a1a" stroke="#1a1a1a" stroke-width="0.2">CD38</text>
<path d="M150.4,490.1 C150.4,489.33 149.82,488.97 150.4,485.5 C150.98,482.03 152.75,475.08 153.9,469.3 C155.05,463.52 156.15,456.58 157.3,450.8 C158.45,445.02 159.57,439.03 160.8,434.6 C162.03,430.17 163.35,424.58 164.7,424.2 C166.05,423.82 167.63,427.48 168.9,432.3 C170.17,437.12 171.15,447.13 172.3,453.1 C173.45,459.07 174.45,464.83 175.8,468.1 C177.15,471.37 178.87,470.97 180.4,472.7 C181.93,474.43 183.45,476.83 185,478.5 C186.55,480.17 188.15,481.85 189.7,482.7 C191.25,483.55 192.77,483.22 194.3,483.6 C195.83,483.98 197.37,484.3 198.9,485 C200.43,485.7 201.97,487.03 203.5,487.8 C205.03,488.57 206.55,489.3 208.1,489.6 C209.65,489.9 211.25,489.98 212.8,489.6 C214.35,489.22 215.87,487.42 217.4,487.3 C218.93,487.18 220.47,488.37 222,488.9 C223.53,489.43 224.68,490.23 226.6,490.5 C228.52,490.77 231.57,490.83 233.5,490.5 C235.43,490.17 237.23,488.57 238.2,488.5 C239.17,488.43 239.12,489.83 239.3,490.1 Z" fill="rgba(170,170,178,0.45)" stroke="#555" stroke-width="0.6"/>
<path d="M150.4,490.1 C150.4,489.52 149.25,488.53 150.4,486.6 C151.55,484.67 155.37,481 157.3,478.5 C159.23,476 160.45,473.45 162,471.6 C163.55,469.75 165.27,467.98 166.6,467.4 C167.93,466.82 168.85,467.98 170,468.1 C171.15,468.22 172.33,468.67 173.5,468.1 C174.67,467.53 175.85,466.82 177,464.7 C178.15,462.58 179.25,458.68 180.4,455.4 C181.55,452.12 182.73,447.88 183.9,445 C185.07,442.12 186.52,439.37 187.4,438.1 C188.28,436.83 188.43,436.43 189.2,437.4 C189.97,438.37 190.97,440.13 192,443.9 C193.03,447.67 194.25,454.62 195.4,460 C196.55,465.38 197.73,472.15 198.9,476.2 C200.07,480.25 201.05,482.18 202.4,484.3 C203.75,486.42 205.47,487.93 207,488.9 C208.53,489.87 210.83,489.9 211.6,490.1 Z" fill="rgba(238,200,110,0.55)" stroke="#555" stroke-width="0.6"/>
<path d="M146.9,421.2 V494.2 H243.2" fill="none" stroke="#222" stroke-width="0.95"/>
<line x1="145.1" y1="425.9" x2="146.9" y2="425.9" stroke="#555" stroke-width="0.6"/>
<text x="143.1" y="428.8" font-size="8.2" text-anchor="end" fill="#222" stroke="#222" stroke-width="0.2">2</text>
<line x1="145.1" y1="442" x2="146.9" y2="442" stroke="#555" stroke-width="0.6"/>
<text x="143.1" y="444.9" font-size="8.2" text-anchor="end" fill="#222" stroke="#222" stroke-width="0.2">1.5</text>
<line x1="145.1" y1="457.7" x2="146.9" y2="457.7" stroke="#555" stroke-width="0.6"/>
<text x="143.1" y="460.6" font-size="8.2" text-anchor="end" fill="#222" stroke="#222" stroke-width="0.2">1</text>
<line x1="145.1" y1="474.2" x2="146.9" y2="474.2" stroke="#555" stroke-width="0.6"/>
<text x="143.1" y="477.1" font-size="8.2" text-anchor="end" fill="#222" stroke="#222" stroke-width="0.2">0.5</text>
<line x1="145.1" y1="490.1" x2="146.9" y2="490.1" stroke="#555" stroke-width="0.6"/>
<text x="143.1" y="493" font-size="8.2" text-anchor="end" fill="#222" stroke="#222" stroke-width="0.2">0</text>
<line x1="153.2" y1="494.2" x2="153.2" y2="496" stroke="#555" stroke-width="0.6"/>
<text x="153.2" y="504.1" font-size="8.2" text-anchor="middle" fill="#222" stroke="#222" stroke-width="0.2">4</text>
<line x1="174.7" y1="494.2" x2="174.7" y2="496" stroke="#555" stroke-width="0.6"/>
<text x="174.7" y="504.1" font-size="8.2" text-anchor="middle" fill="#222" stroke="#222" stroke-width="0.2">4.5</text>
<line x1="196.6" y1="494.2" x2="196.6" y2="496" stroke="#555" stroke-width="0.6"/>
<text x="196.6" y="504.1" font-size="8.2" text-anchor="middle" fill="#222" stroke="#222" stroke-width="0.2">5</text>
<line x1="218.1" y1="494.2" x2="218.1" y2="496" stroke="#555" stroke-width="0.6"/>
<text x="218.1" y="504.1" font-size="8.2" text-anchor="middle" fill="#222" stroke="#222" stroke-width="0.2">5.5</text>
<line x1="239.3" y1="494.2" x2="239.3" y2="496" stroke="#555" stroke-width="0.6"/>
<text x="239.3" y="504.1" font-size="8.2" text-anchor="middle" fill="#222" stroke="#222" stroke-width="0.2">6</text>
<text x="196.6" y="518.4" font-size="8.2" text-anchor="middle" fill="#1a1a1a" stroke="#1a1a1a" stroke-width="0.2">mRNA expression</text>
<text x="255.3" y="416" font-size="13.5" text-anchor="start" fill="#000" font-weight="bold">e</text>
<text x="310" y="419" font-size="8.2" text-anchor="middle" fill="#1a1a1a" stroke="#1a1a1a" stroke-width="0.2">OXT</text>
<path d="M267.3,491.9 C267.3,491.4 266.72,489.13 267.3,488.9 C267.88,488.67 269.07,490.12 270.8,490.5 C272.53,490.88 275.78,491.65 277.7,491.2 C279.62,490.75 280.95,489.15 282.3,487.8 C283.65,486.45 284.83,486.18 285.8,483.1 C286.77,480.02 287.45,475.45 288.1,469.3 C288.75,463.15 289.12,452.75 289.7,446.2 C290.28,439.65 290.83,433.73 291.6,430 C292.37,426.27 293.35,423.8 294.3,423.8 C295.25,423.8 296.4,426.27 297.3,430 C298.2,433.73 298.92,441.2 299.7,446.2 C300.48,451.2 301.05,455 302,460 C302.95,465 304.45,471.77 305.4,476.2 C306.35,480.63 306.85,484.75 307.7,486.6 C308.55,488.45 309.53,487.3 310.5,487.3 C311.47,487.3 312.42,486.13 313.5,486.6 C314.58,487.07 315.65,489.45 317,490.1 C318.35,490.75 320.07,491.08 321.6,490.5 C323.13,489.92 324.85,486.93 326.2,486.6 C327.55,486.27 328.15,487.85 329.7,488.5 C331.25,489.15 331.85,490.05 335.5,490.5 C339.15,490.95 348.15,491.47 351.6,491.2 C355.05,490.93 355.43,488.78 356.2,488.9 C356.97,489.02 356.2,491.4 356.2,491.9 Z" fill="rgba(170,170,178,0.45)" stroke="#555" stroke-width="0.6"/>
<path d="M277.7,491.9 C278.47,491.22 280.75,489.27 282.3,487.8 C283.85,486.33 285.65,485.03 287,483.1 C288.35,481.17 289.25,478.5 290.4,476.2 C291.55,473.9 292.75,471.8 293.9,469.3 C295.05,466.8 296.45,464.67 297.3,461.2 C298.15,457.73 298.42,452.53 299,448.5 C299.58,444.47 300.12,440.38 300.8,437 C301.48,433.62 302.33,428.2 303.1,428.2 C303.87,428.2 304.63,432.08 305.4,437 C306.17,441.92 306.85,451.55 307.7,457.7 C308.55,463.85 309.53,469.08 310.5,473.9 C311.47,478.72 312.42,483.83 313.5,486.6 C314.58,489.37 316.08,489.62 317,490.5 C317.92,491.38 318.67,491.67 319,491.9 Z" fill="rgba(238,200,110,0.55)" stroke="#555" stroke-width="0.6"/>
<path d="M264.3,420.3 V494.2 H361.3" fill="none" stroke="#222" stroke-width="0.95"/>
<line x1="262.5" y1="441.6" x2="264.3" y2="441.6" stroke="#555" stroke-width="0.6"/>
<text x="260.5" y="444.5" font-size="8.2" text-anchor="end" fill="#222" stroke="#222" stroke-width="0.2">4</text>
<line x1="262.5" y1="467" x2="264.3" y2="467" stroke="#555" stroke-width="0.6"/>
<text x="260.5" y="469.9" font-size="8.2" text-anchor="end" fill="#222" stroke="#222" stroke-width="0.2">2</text>
<line x1="262.5" y1="491.9" x2="264.3" y2="491.9" stroke="#555" stroke-width="0.6"/>
<text x="260.5" y="494.8" font-size="8.2" text-anchor="end" fill="#222" stroke="#222" stroke-width="0.2">0</text>
<line x1="292.7" y1="494.2" x2="292.7" y2="496" stroke="#555" stroke-width="0.6"/>
<text x="292.7" y="504.1" font-size="8.2" text-anchor="middle" fill="#222" stroke="#222" stroke-width="0.2">3.2</text>
<line x1="322.7" y1="494.2" x2="322.7" y2="496" stroke="#555" stroke-width="0.6"/>
<text x="322.7" y="504.1" font-size="8.2" text-anchor="middle" fill="#222" stroke="#222" stroke-width="0.2">3.6</text>
<line x1="351.6" y1="494.2" x2="351.6" y2="496" stroke="#555" stroke-width="0.6"/>
<text x="351.6" y="504.1" font-size="8.2" text-anchor="middle" fill="#222" stroke="#222" stroke-width="0.2">4</text>
<text x="310.5" y="518.4" font-size="8.2" text-anchor="middle" fill="#1a1a1a" stroke="#1a1a1a" stroke-width="0.2">mRNA expression</text>
<text x="336.6" y="432.9" font-size="8.2" text-anchor="start" fill="#1a1a1a" stroke="#1a1a1a" stroke-width="0.2">Terms</text>
<rect x="336.7" y="438.3" width="10.2" height="7.3" fill="#dedede" stroke="#777" stroke-width="0.5"/>
<rect x="336.7" y="447.6" width="10.2" height="7.3" fill="#f7dea2" stroke="#777" stroke-width="0.5"/>
<text x="349.3" y="444.8" font-size="8.2" text-anchor="start" fill="#1a1a1a" stroke="#1a1a1a" stroke-width="0.2">Non-social</text>
<text x="349.3" y="455" font-size="8.2" text-anchor="start" fill="#1a1a1a" stroke="#1a1a1a" stroke-width="0.2">Social</text>
</svg>
</body></html>
